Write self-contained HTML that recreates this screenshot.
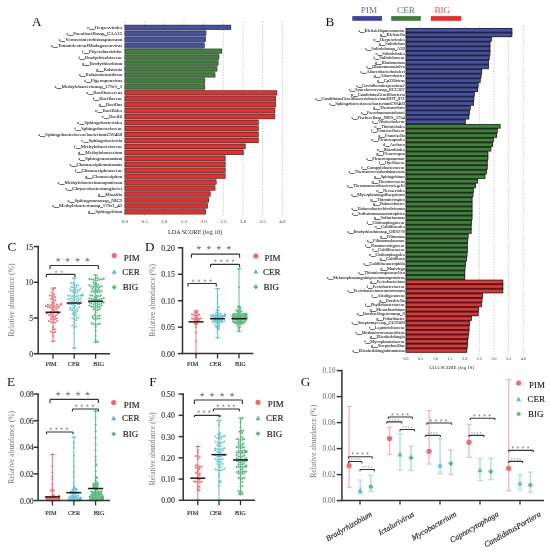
<!DOCTYPE html>
<html><head><meta charset="utf-8"><title>Figure</title>
<style>
html,body{margin:0;padding:0;background:#fff;}
svg{display:block;font-family:'Liberation Serif','DejaVu Serif',serif;}
</style></head><body>
<svg width="550" height="553" viewBox="0 0 550 553">
<rect width="550" height="553" fill="#fff"/>
<g id="pA">
<line x1="124.80" y1="21.5" x2="124.80" y2="216.5" stroke="#9a9a9a" stroke-width="0.6" stroke-dasharray="1.2,1.6"/>
<line x1="144.50" y1="21.5" x2="144.50" y2="216.5" stroke="#9a9a9a" stroke-width="0.6" stroke-dasharray="1.2,1.6"/>
<line x1="164.20" y1="21.5" x2="164.20" y2="216.5" stroke="#9a9a9a" stroke-width="0.6" stroke-dasharray="1.2,1.6"/>
<line x1="183.90" y1="21.5" x2="183.90" y2="216.5" stroke="#9a9a9a" stroke-width="0.6" stroke-dasharray="1.2,1.6"/>
<line x1="203.60" y1="21.5" x2="203.60" y2="216.5" stroke="#9a9a9a" stroke-width="0.6" stroke-dasharray="1.2,1.6"/>
<line x1="223.30" y1="21.5" x2="223.30" y2="216.5" stroke="#9a9a9a" stroke-width="0.6" stroke-dasharray="1.2,1.6"/>
<line x1="243.00" y1="21.5" x2="243.00" y2="216.5" stroke="#9a9a9a" stroke-width="0.6" stroke-dasharray="1.2,1.6"/>
<line x1="262.70" y1="21.5" x2="262.70" y2="216.5" stroke="#9a9a9a" stroke-width="0.6" stroke-dasharray="1.2,1.6"/>
<line x1="282.40" y1="21.5" x2="282.40" y2="216.5" stroke="#9a9a9a" stroke-width="0.6" stroke-dasharray="1.2,1.6"/>
<rect x="124.80" y="29.18" width="81.16" height="2.25" fill="#a8a8a2"/>
<rect x="124.80" y="35.13" width="80.77" height="2.25" fill="#a8a8a2"/>
<rect x="124.80" y="41.09" width="79.59" height="2.25" fill="#a8a8a2"/>
<rect x="124.80" y="47.04" width="79.59" height="2.25" fill="#a8a8a2"/>
<rect x="124.80" y="53.00" width="94.17" height="2.25" fill="#a8a8a2"/>
<rect x="124.80" y="58.95" width="93.38" height="2.25" fill="#a8a8a2"/>
<rect x="124.80" y="64.91" width="92.20" height="2.25" fill="#a8a8a2"/>
<rect x="124.80" y="70.86" width="90.23" height="2.25" fill="#a8a8a2"/>
<rect x="124.80" y="76.82" width="79.98" height="2.25" fill="#a8a8a2"/>
<rect x="124.80" y="82.77" width="79.98" height="2.25" fill="#a8a8a2"/>
<rect x="124.80" y="88.73" width="79.98" height="2.25" fill="#a8a8a2"/>
<rect x="124.80" y="94.68" width="150.90" height="2.25" fill="#a8a8a2"/>
<rect x="124.80" y="100.64" width="150.90" height="2.25" fill="#a8a8a2"/>
<rect x="124.80" y="106.59" width="150.11" height="2.25" fill="#a8a8a2"/>
<rect x="124.80" y="112.55" width="150.11" height="2.25" fill="#a8a8a2"/>
<rect x="124.80" y="118.50" width="133.57" height="2.25" fill="#a8a8a2"/>
<rect x="124.80" y="124.46" width="133.57" height="2.25" fill="#a8a8a2"/>
<rect x="124.80" y="130.41" width="133.57" height="2.25" fill="#a8a8a2"/>
<rect x="124.80" y="136.37" width="133.57" height="2.25" fill="#a8a8a2"/>
<rect x="124.80" y="142.32" width="120.56" height="2.25" fill="#a8a8a2"/>
<rect x="124.80" y="148.28" width="118.59" height="2.25" fill="#a8a8a2"/>
<rect x="124.80" y="154.23" width="100.47" height="2.25" fill="#a8a8a2"/>
<rect x="124.80" y="160.19" width="100.47" height="2.25" fill="#a8a8a2"/>
<rect x="124.80" y="166.14" width="100.47" height="2.25" fill="#a8a8a2"/>
<rect x="124.80" y="172.10" width="100.47" height="2.25" fill="#a8a8a2"/>
<rect x="124.80" y="178.05" width="91.41" height="2.25" fill="#a8a8a2"/>
<rect x="124.80" y="184.01" width="90.23" height="2.25" fill="#a8a8a2"/>
<rect x="124.80" y="189.96" width="85.50" height="2.25" fill="#a8a8a2"/>
<rect x="124.80" y="195.92" width="83.92" height="2.25" fill="#a8a8a2"/>
<rect x="124.80" y="201.87" width="82.74" height="2.25" fill="#a8a8a2"/>
<rect x="124.80" y="207.83" width="80.77" height="2.25" fill="#a8a8a2"/>
<rect x="124.45" y="24.78" width="106.69" height="5.10" fill="#3a3a3a"/>
<rect x="125.15" y="25.48" width="105.29" height="3.70" fill="#444fa8"/>
<rect x="124.45" y="30.73" width="81.86" height="5.10" fill="#3a3a3a"/>
<rect x="125.15" y="31.43" width="80.46" height="3.70" fill="#444fa8"/>
<rect x="124.45" y="36.69" width="81.47" height="5.10" fill="#3a3a3a"/>
<rect x="125.15" y="37.39" width="80.07" height="3.70" fill="#444fa8"/>
<rect x="124.45" y="42.64" width="80.29" height="5.10" fill="#3a3a3a"/>
<rect x="125.15" y="43.34" width="78.89" height="3.70" fill="#444fa8"/>
<rect x="124.45" y="48.60" width="97.62" height="5.10" fill="#3a3a3a"/>
<rect x="125.15" y="49.30" width="96.22" height="3.70" fill="#3d8338"/>
<rect x="124.45" y="54.55" width="94.87" height="5.10" fill="#3a3a3a"/>
<rect x="125.15" y="55.25" width="93.47" height="3.70" fill="#3d8338"/>
<rect x="124.45" y="60.51" width="94.08" height="5.10" fill="#3a3a3a"/>
<rect x="125.15" y="61.21" width="92.68" height="3.70" fill="#3d8338"/>
<rect x="124.45" y="66.46" width="92.90" height="5.10" fill="#3a3a3a"/>
<rect x="125.15" y="67.16" width="91.50" height="3.70" fill="#3d8338"/>
<rect x="124.45" y="72.42" width="90.93" height="5.10" fill="#3a3a3a"/>
<rect x="125.15" y="73.12" width="89.53" height="3.70" fill="#3d8338"/>
<rect x="124.45" y="78.37" width="80.68" height="5.10" fill="#3a3a3a"/>
<rect x="125.15" y="79.07" width="79.28" height="3.70" fill="#3d8338"/>
<rect x="124.45" y="84.33" width="80.68" height="5.10" fill="#3a3a3a"/>
<rect x="125.15" y="85.03" width="79.28" height="3.70" fill="#3d8338"/>
<rect x="124.45" y="90.28" width="152.78" height="5.10" fill="#3a3a3a"/>
<rect x="125.15" y="90.98" width="151.38" height="3.70" fill="#ee2b2b"/>
<rect x="124.45" y="96.24" width="151.60" height="5.10" fill="#3a3a3a"/>
<rect x="125.15" y="96.94" width="150.20" height="3.70" fill="#ee2b2b"/>
<rect x="124.45" y="102.19" width="151.60" height="5.10" fill="#3a3a3a"/>
<rect x="125.15" y="102.89" width="150.20" height="3.70" fill="#ee2b2b"/>
<rect x="124.45" y="108.15" width="150.81" height="5.10" fill="#3a3a3a"/>
<rect x="125.15" y="108.85" width="149.41" height="3.70" fill="#ee2b2b"/>
<rect x="124.45" y="114.10" width="150.81" height="5.10" fill="#3a3a3a"/>
<rect x="125.15" y="114.80" width="149.41" height="3.70" fill="#ee2b2b"/>
<rect x="124.45" y="120.06" width="134.27" height="5.10" fill="#3a3a3a"/>
<rect x="125.15" y="120.76" width="132.87" height="3.70" fill="#ee2b2b"/>
<rect x="124.45" y="126.01" width="134.27" height="5.10" fill="#3a3a3a"/>
<rect x="125.15" y="126.71" width="132.87" height="3.70" fill="#ee2b2b"/>
<rect x="124.45" y="131.97" width="134.27" height="5.10" fill="#3a3a3a"/>
<rect x="125.15" y="132.67" width="132.87" height="3.70" fill="#ee2b2b"/>
<rect x="124.45" y="137.92" width="134.27" height="5.10" fill="#3a3a3a"/>
<rect x="125.15" y="138.62" width="132.87" height="3.70" fill="#ee2b2b"/>
<rect x="124.45" y="143.88" width="121.26" height="5.10" fill="#3a3a3a"/>
<rect x="125.15" y="144.58" width="119.86" height="3.70" fill="#ee2b2b"/>
<rect x="124.45" y="149.83" width="119.29" height="5.10" fill="#3a3a3a"/>
<rect x="125.15" y="150.53" width="117.89" height="3.70" fill="#ee2b2b"/>
<rect x="124.45" y="155.79" width="101.17" height="5.10" fill="#3a3a3a"/>
<rect x="125.15" y="156.49" width="99.77" height="3.70" fill="#ee2b2b"/>
<rect x="124.45" y="161.74" width="101.17" height="5.10" fill="#3a3a3a"/>
<rect x="125.15" y="162.44" width="99.77" height="3.70" fill="#ee2b2b"/>
<rect x="124.45" y="167.70" width="101.17" height="5.10" fill="#3a3a3a"/>
<rect x="125.15" y="168.40" width="99.77" height="3.70" fill="#ee2b2b"/>
<rect x="124.45" y="173.65" width="101.17" height="5.10" fill="#3a3a3a"/>
<rect x="125.15" y="174.35" width="99.77" height="3.70" fill="#ee2b2b"/>
<rect x="124.45" y="179.61" width="92.11" height="5.10" fill="#3a3a3a"/>
<rect x="125.15" y="180.31" width="90.71" height="3.70" fill="#ee2b2b"/>
<rect x="124.45" y="185.56" width="90.93" height="5.10" fill="#3a3a3a"/>
<rect x="125.15" y="186.26" width="89.53" height="3.70" fill="#ee2b2b"/>
<rect x="124.45" y="191.52" width="86.20" height="5.10" fill="#3a3a3a"/>
<rect x="125.15" y="192.22" width="84.80" height="3.70" fill="#ee2b2b"/>
<rect x="124.45" y="197.47" width="84.62" height="5.10" fill="#3a3a3a"/>
<rect x="125.15" y="198.17" width="83.22" height="3.70" fill="#ee2b2b"/>
<rect x="124.45" y="203.43" width="83.44" height="5.10" fill="#3a3a3a"/>
<rect x="125.15" y="204.13" width="82.04" height="3.70" fill="#ee2b2b"/>
<rect x="124.45" y="209.38" width="81.47" height="5.10" fill="#3a3a3a"/>
<rect x="125.15" y="210.08" width="80.07" height="3.70" fill="#ee2b2b"/>
<text x="122.30" y="28.83" font-size="5.0" text-anchor="end" fill="#111" stroke="#111" stroke-width="0.06">o__Herpesvirales</text>
<text x="122.30" y="34.78" font-size="5.0" text-anchor="end" fill="#111" stroke="#111" stroke-width="0.06">s__Paenibacillussp_CAA11</text>
<text x="122.30" y="40.74" font-size="5.0" text-anchor="end" fill="#111" stroke="#111" stroke-width="0.06">s__Verrucomicrobiumspinosum</text>
<text x="122.30" y="46.69" font-size="5.0" text-anchor="end" fill="#111" stroke="#111" stroke-width="0.06">s__TomatoleafcurlMadagascarvirus</text>
<text x="122.30" y="52.65" font-size="5.0" text-anchor="end" fill="#111" stroke="#111" stroke-width="0.06">f__Phycodnaviridae</text>
<text x="122.30" y="58.60" font-size="5.0" text-anchor="end" fill="#111" stroke="#111" stroke-width="0.06">f__Bradyrhizobiaceae</text>
<text x="122.30" y="64.56" font-size="5.0" text-anchor="end" fill="#111" stroke="#111" stroke-width="0.06">g__Bradyrhizobium</text>
<text x="122.30" y="70.51" font-size="5.0" text-anchor="end" fill="#111" stroke="#111" stroke-width="0.06">g__Ralstonia</text>
<text x="122.30" y="76.47" font-size="5.0" text-anchor="end" fill="#111" stroke="#111" stroke-width="0.06">s__Ralstoniainsidiosa</text>
<text x="122.30" y="82.42" font-size="5.0" text-anchor="end" fill="#111" stroke="#111" stroke-width="0.06">s__Pigeonpoxvirus</text>
<text x="122.30" y="88.38" font-size="5.0" text-anchor="end" fill="#111" stroke="#111" stroke-width="0.06">s__Methylobacteriumsp_17Sr1_1</text>
<text x="122.30" y="94.33" font-size="5.0" text-anchor="end" fill="#111" stroke="#111" stroke-width="0.06">s__Bacilluscereus</text>
<text x="122.30" y="100.29" font-size="5.0" text-anchor="end" fill="#111" stroke="#111" stroke-width="0.06">f__Bacillaceae</text>
<text x="122.30" y="106.24" font-size="5.0" text-anchor="end" fill="#111" stroke="#111" stroke-width="0.06">g__Bacillus</text>
<text x="122.30" y="112.20" font-size="5.0" text-anchor="end" fill="#111" stroke="#111" stroke-width="0.06">o__Bacillales</text>
<text x="122.30" y="118.15" font-size="5.0" text-anchor="end" fill="#111" stroke="#111" stroke-width="0.06">c__Bacilli</text>
<text x="122.30" y="124.11" font-size="5.0" text-anchor="end" fill="#111" stroke="#111" stroke-width="0.06">o__Sphingobacteriales</text>
<text x="122.30" y="130.06" font-size="5.0" text-anchor="end" fill="#111" stroke="#111" stroke-width="0.06">f__Sphingobacteriaceae</text>
<text x="122.30" y="136.02" font-size="5.0" text-anchor="end" fill="#111" stroke="#111" stroke-width="0.06">s__SphingobacteriaceaebacteriumGW460</text>
<text x="122.30" y="141.97" font-size="5.0" text-anchor="end" fill="#111" stroke="#111" stroke-width="0.06">c__Sphingobacteriia</text>
<text x="122.30" y="147.93" font-size="5.0" text-anchor="end" fill="#111" stroke="#111" stroke-width="0.06">f__Methylobacteriaceae</text>
<text x="122.30" y="153.88" font-size="5.0" text-anchor="end" fill="#111" stroke="#111" stroke-width="0.06">g__Methylobacterium</text>
<text x="122.30" y="159.84" font-size="5.0" text-anchor="end" fill="#111" stroke="#111" stroke-width="0.06">s__Sphingomonastaxi</text>
<text x="122.30" y="165.79" font-size="5.0" text-anchor="end" fill="#111" stroke="#111" stroke-width="0.06">s__Chamaesiphonminutus</text>
<text x="122.30" y="171.75" font-size="5.0" text-anchor="end" fill="#111" stroke="#111" stroke-width="0.06">f__Chamaesiphonaceae</text>
<text x="122.30" y="177.70" font-size="5.0" text-anchor="end" fill="#111" stroke="#111" stroke-width="0.06">g__Chamaesiphon</text>
<text x="122.30" y="183.66" font-size="5.0" text-anchor="end" fill="#111" stroke="#111" stroke-width="0.06">s__Methylobacteriumaquaticum</text>
<text x="122.30" y="189.61" font-size="5.0" text-anchor="end" fill="#111" stroke="#111" stroke-width="0.06">s__Chryseobacteriumglaciei</text>
<text x="122.30" y="195.57" font-size="5.0" text-anchor="end" fill="#111" stroke="#111" stroke-width="0.06">g__Massilia</text>
<text x="122.30" y="201.52" font-size="5.0" text-anchor="end" fill="#111" stroke="#111" stroke-width="0.06">s__Sphingomonassp_NIC1</text>
<text x="122.30" y="207.48" font-size="5.0" text-anchor="end" fill="#111" stroke="#111" stroke-width="0.06">s__Methylobacteriumsp_17Sr1_43</text>
<text x="122.30" y="213.43" font-size="5.0" text-anchor="end" fill="#111" stroke="#111" stroke-width="0.06">g__Sphingobium</text>
<text x="124.80" y="223.4" font-size="5.0" text-anchor="middle" fill="#333">0.0</text>
<text x="144.50" y="223.4" font-size="5.0" text-anchor="middle" fill="#333">0.5</text>
<text x="164.20" y="223.4" font-size="5.0" text-anchor="middle" fill="#333">1.0</text>
<text x="183.90" y="223.4" font-size="5.0" text-anchor="middle" fill="#333">1.5</text>
<text x="203.60" y="223.4" font-size="5.0" text-anchor="middle" fill="#333">2.0</text>
<text x="223.30" y="223.4" font-size="5.0" text-anchor="middle" fill="#333">2.5</text>
<text x="243.00" y="223.4" font-size="5.0" text-anchor="middle" fill="#333">3.0</text>
<text x="262.70" y="223.4" font-size="5.0" text-anchor="middle" fill="#333">3.5</text>
<text x="282.40" y="223.4" font-size="5.0" text-anchor="middle" fill="#333">4.0</text>
<text x="195.2" y="233.7" font-size="6.1" text-anchor="middle" fill="#222">LDA SCORE (log 10)</text>
</g>
<text x="32" y="26" font-size="13.2" fill="#111">A</text>
<g id="pB">
<line x1="406.10" y1="26" x2="406.10" y2="355.5" stroke="#9a9a9a" stroke-width="0.6" stroke-dasharray="1.2,1.6"/>
<line x1="420.75" y1="26" x2="420.75" y2="355.5" stroke="#9a9a9a" stroke-width="0.6" stroke-dasharray="1.2,1.6"/>
<line x1="435.40" y1="26" x2="435.40" y2="355.5" stroke="#9a9a9a" stroke-width="0.6" stroke-dasharray="1.2,1.6"/>
<line x1="450.05" y1="26" x2="450.05" y2="355.5" stroke="#9a9a9a" stroke-width="0.6" stroke-dasharray="1.2,1.6"/>
<line x1="464.70" y1="26" x2="464.70" y2="355.5" stroke="#9a9a9a" stroke-width="0.6" stroke-dasharray="1.2,1.6"/>
<line x1="479.35" y1="26" x2="479.35" y2="355.5" stroke="#9a9a9a" stroke-width="0.6" stroke-dasharray="1.2,1.6"/>
<line x1="494.00" y1="26" x2="494.00" y2="355.5" stroke="#9a9a9a" stroke-width="0.6" stroke-dasharray="1.2,1.6"/>
<line x1="508.65" y1="26" x2="508.65" y2="355.5" stroke="#9a9a9a" stroke-width="0.6" stroke-dasharray="1.2,1.6"/>
<line x1="523.30" y1="26" x2="523.30" y2="355.5" stroke="#9a9a9a" stroke-width="0.6" stroke-dasharray="1.2,1.6"/>
<rect x="405.63" y="28.00" width="106.71" height="4.58" fill="#2c2a28"/>
<rect x="405.63" y="31.73" width="106.71" height="1.69" fill="#2c2a28"/>
<rect x="406.57" y="28.94" width="104.84" height="2.70" fill="#4450b4"/>
<rect x="405.63" y="32.58" width="106.71" height="4.58" fill="#2c2a28"/>
<rect x="405.63" y="36.31" width="86.20" height="1.69" fill="#2c2a28"/>
<rect x="406.57" y="33.51" width="104.84" height="2.70" fill="#4450b4"/>
<rect x="405.63" y="37.15" width="86.20" height="4.58" fill="#2c2a28"/>
<rect x="405.63" y="40.88" width="84.74" height="1.69" fill="#2c2a28"/>
<rect x="406.57" y="38.09" width="84.33" height="2.70" fill="#4450b4"/>
<rect x="405.63" y="41.73" width="84.74" height="4.58" fill="#2c2a28"/>
<rect x="405.63" y="45.46" width="84.74" height="1.69" fill="#2c2a28"/>
<rect x="406.57" y="42.66" width="82.86" height="2.70" fill="#4450b4"/>
<rect x="405.63" y="46.30" width="84.74" height="4.58" fill="#2c2a28"/>
<rect x="405.63" y="50.03" width="84.74" height="1.69" fill="#2c2a28"/>
<rect x="406.57" y="47.24" width="82.86" height="2.70" fill="#4450b4"/>
<rect x="405.63" y="50.88" width="84.74" height="4.58" fill="#2c2a28"/>
<rect x="405.63" y="54.61" width="84.15" height="1.69" fill="#2c2a28"/>
<rect x="406.57" y="51.81" width="82.86" height="2.70" fill="#4450b4"/>
<rect x="405.63" y="55.45" width="84.15" height="4.58" fill="#2c2a28"/>
<rect x="405.63" y="59.18" width="83.27" height="1.69" fill="#2c2a28"/>
<rect x="406.57" y="56.39" width="82.27" height="2.70" fill="#4450b4"/>
<rect x="405.63" y="60.02" width="83.27" height="4.58" fill="#2c2a28"/>
<rect x="405.63" y="63.76" width="83.27" height="1.69" fill="#2c2a28"/>
<rect x="406.57" y="60.96" width="81.40" height="2.70" fill="#4450b4"/>
<rect x="405.63" y="64.60" width="83.27" height="4.58" fill="#2c2a28"/>
<rect x="405.63" y="68.33" width="76.53" height="1.69" fill="#2c2a28"/>
<rect x="406.57" y="65.54" width="81.40" height="2.70" fill="#4450b4"/>
<rect x="405.63" y="69.18" width="76.53" height="4.58" fill="#2c2a28"/>
<rect x="405.63" y="72.91" width="75.95" height="1.69" fill="#2c2a28"/>
<rect x="406.57" y="70.11" width="74.66" height="2.70" fill="#4450b4"/>
<rect x="405.63" y="73.75" width="75.95" height="4.58" fill="#2c2a28"/>
<rect x="405.63" y="77.48" width="75.07" height="1.69" fill="#2c2a28"/>
<rect x="406.57" y="74.69" width="74.07" height="2.70" fill="#4450b4"/>
<rect x="405.63" y="78.33" width="75.07" height="4.58" fill="#2c2a28"/>
<rect x="405.63" y="82.06" width="73.02" height="1.69" fill="#2c2a28"/>
<rect x="406.57" y="79.26" width="73.19" height="2.70" fill="#4450b4"/>
<rect x="405.63" y="82.90" width="73.02" height="4.58" fill="#2c2a28"/>
<rect x="405.63" y="86.63" width="72.43" height="1.69" fill="#2c2a28"/>
<rect x="406.57" y="83.84" width="71.14" height="2.70" fill="#4450b4"/>
<rect x="405.63" y="87.47" width="72.43" height="4.58" fill="#2c2a28"/>
<rect x="405.63" y="91.21" width="69.21" height="1.69" fill="#2c2a28"/>
<rect x="406.57" y="88.41" width="70.55" height="2.70" fill="#4450b4"/>
<rect x="405.63" y="92.05" width="69.21" height="4.58" fill="#2c2a28"/>
<rect x="405.63" y="95.78" width="68.62" height="1.69" fill="#2c2a28"/>
<rect x="406.57" y="92.99" width="67.33" height="2.70" fill="#4450b4"/>
<rect x="405.63" y="96.62" width="68.62" height="4.58" fill="#2c2a28"/>
<rect x="405.63" y="100.36" width="68.33" height="1.69" fill="#2c2a28"/>
<rect x="406.57" y="97.56" width="66.75" height="2.70" fill="#4450b4"/>
<rect x="405.63" y="101.20" width="68.33" height="4.58" fill="#2c2a28"/>
<rect x="405.63" y="104.93" width="65.10" height="1.69" fill="#2c2a28"/>
<rect x="406.57" y="102.14" width="66.45" height="2.70" fill="#4450b4"/>
<rect x="405.63" y="105.78" width="65.10" height="4.58" fill="#2c2a28"/>
<rect x="405.63" y="109.51" width="64.23" height="1.69" fill="#2c2a28"/>
<rect x="406.57" y="106.71" width="63.23" height="2.70" fill="#4450b4"/>
<rect x="405.63" y="110.35" width="64.23" height="4.58" fill="#2c2a28"/>
<rect x="405.63" y="114.08" width="63.64" height="1.69" fill="#2c2a28"/>
<rect x="406.57" y="111.29" width="62.35" height="2.70" fill="#4450b4"/>
<rect x="405.63" y="114.92" width="63.64" height="4.58" fill="#2c2a28"/>
<rect x="405.63" y="118.66" width="60.12" height="1.69" fill="#2c2a28"/>
<rect x="406.57" y="115.86" width="61.76" height="2.70" fill="#4450b4"/>
<rect x="405.63" y="119.50" width="60.12" height="4.58" fill="#2c2a28"/>
<rect x="405.63" y="123.23" width="60.12" height="1.69" fill="#2c2a28"/>
<rect x="406.57" y="120.44" width="58.25" height="2.70" fill="#4450b4"/>
<rect x="405.63" y="124.08" width="94.99" height="4.58" fill="#2c2a28"/>
<rect x="405.63" y="127.81" width="92.06" height="1.69" fill="#2c2a28"/>
<rect x="406.57" y="125.01" width="93.12" height="2.70" fill="#398838"/>
<rect x="405.63" y="128.65" width="92.06" height="4.58" fill="#2c2a28"/>
<rect x="405.63" y="132.38" width="91.47" height="1.69" fill="#2c2a28"/>
<rect x="406.57" y="129.59" width="90.19" height="2.70" fill="#398838"/>
<rect x="405.63" y="133.23" width="91.47" height="4.58" fill="#2c2a28"/>
<rect x="405.63" y="136.96" width="88.25" height="1.69" fill="#2c2a28"/>
<rect x="406.57" y="134.16" width="89.60" height="2.70" fill="#398838"/>
<rect x="405.63" y="137.80" width="88.25" height="4.58" fill="#2c2a28"/>
<rect x="405.63" y="141.53" width="87.37" height="1.69" fill="#2c2a28"/>
<rect x="406.57" y="138.74" width="86.38" height="2.70" fill="#398838"/>
<rect x="405.63" y="142.38" width="87.37" height="4.58" fill="#2c2a28"/>
<rect x="405.63" y="146.11" width="85.61" height="1.69" fill="#2c2a28"/>
<rect x="406.57" y="143.31" width="85.50" height="2.70" fill="#398838"/>
<rect x="405.63" y="146.95" width="85.61" height="4.58" fill="#2c2a28"/>
<rect x="405.63" y="150.68" width="82.68" height="1.69" fill="#2c2a28"/>
<rect x="406.57" y="147.89" width="83.74" height="2.70" fill="#398838"/>
<rect x="405.63" y="151.53" width="82.68" height="4.58" fill="#2c2a28"/>
<rect x="405.63" y="155.26" width="82.68" height="1.69" fill="#2c2a28"/>
<rect x="406.57" y="152.46" width="80.81" height="2.70" fill="#398838"/>
<rect x="405.63" y="156.10" width="82.68" height="4.58" fill="#2c2a28"/>
<rect x="405.63" y="159.83" width="82.10" height="1.69" fill="#2c2a28"/>
<rect x="406.57" y="157.04" width="80.81" height="2.70" fill="#398838"/>
<rect x="405.63" y="160.68" width="82.10" height="4.58" fill="#2c2a28"/>
<rect x="405.63" y="164.41" width="82.10" height="1.69" fill="#2c2a28"/>
<rect x="406.57" y="161.61" width="80.22" height="2.70" fill="#398838"/>
<rect x="405.63" y="165.25" width="82.10" height="4.58" fill="#2c2a28"/>
<rect x="405.63" y="168.98" width="81.22" height="1.69" fill="#2c2a28"/>
<rect x="406.57" y="166.19" width="80.22" height="2.70" fill="#398838"/>
<rect x="405.63" y="169.83" width="81.22" height="4.58" fill="#2c2a28"/>
<rect x="405.63" y="173.56" width="79.75" height="1.69" fill="#2c2a28"/>
<rect x="406.57" y="170.76" width="79.34" height="2.70" fill="#398838"/>
<rect x="405.63" y="174.40" width="79.75" height="4.58" fill="#2c2a28"/>
<rect x="405.63" y="178.13" width="72.43" height="1.69" fill="#2c2a28"/>
<rect x="406.57" y="175.34" width="77.88" height="2.70" fill="#398838"/>
<rect x="405.63" y="178.97" width="72.43" height="4.58" fill="#2c2a28"/>
<rect x="405.63" y="182.71" width="70.38" height="1.69" fill="#2c2a28"/>
<rect x="406.57" y="179.91" width="70.55" height="2.70" fill="#398838"/>
<rect x="405.63" y="183.55" width="70.38" height="4.58" fill="#2c2a28"/>
<rect x="405.63" y="187.28" width="68.33" height="1.69" fill="#2c2a28"/>
<rect x="406.57" y="184.49" width="68.50" height="2.70" fill="#398838"/>
<rect x="405.63" y="188.12" width="68.33" height="4.58" fill="#2c2a28"/>
<rect x="405.63" y="191.86" width="67.74" height="1.69" fill="#2c2a28"/>
<rect x="406.57" y="189.06" width="66.45" height="2.70" fill="#398838"/>
<rect x="405.63" y="192.70" width="67.74" height="4.58" fill="#2c2a28"/>
<rect x="405.63" y="196.43" width="66.86" height="1.69" fill="#2c2a28"/>
<rect x="406.57" y="193.64" width="65.87" height="2.70" fill="#398838"/>
<rect x="405.63" y="197.28" width="66.86" height="4.58" fill="#2c2a28"/>
<rect x="405.63" y="201.01" width="66.86" height="1.69" fill="#2c2a28"/>
<rect x="406.57" y="198.21" width="64.99" height="2.70" fill="#398838"/>
<rect x="405.63" y="201.85" width="66.86" height="4.58" fill="#2c2a28"/>
<rect x="405.63" y="205.58" width="66.86" height="1.69" fill="#2c2a28"/>
<rect x="406.57" y="202.79" width="64.99" height="2.70" fill="#398838"/>
<rect x="405.63" y="206.43" width="66.86" height="4.58" fill="#2c2a28"/>
<rect x="405.63" y="210.16" width="66.86" height="1.69" fill="#2c2a28"/>
<rect x="406.57" y="207.36" width="64.99" height="2.70" fill="#398838"/>
<rect x="405.63" y="211.00" width="66.86" height="4.58" fill="#2c2a28"/>
<rect x="405.63" y="214.73" width="66.86" height="1.69" fill="#2c2a28"/>
<rect x="406.57" y="211.94" width="64.99" height="2.70" fill="#398838"/>
<rect x="405.63" y="215.58" width="66.86" height="4.58" fill="#2c2a28"/>
<rect x="405.63" y="219.31" width="66.28" height="1.69" fill="#2c2a28"/>
<rect x="406.57" y="216.51" width="64.99" height="2.70" fill="#398838"/>
<rect x="405.63" y="220.15" width="66.28" height="4.58" fill="#2c2a28"/>
<rect x="405.63" y="223.88" width="65.98" height="1.69" fill="#2c2a28"/>
<rect x="406.57" y="221.09" width="64.40" height="2.70" fill="#398838"/>
<rect x="405.63" y="224.72" width="65.98" height="4.58" fill="#2c2a28"/>
<rect x="405.63" y="228.46" width="65.98" height="1.69" fill="#2c2a28"/>
<rect x="406.57" y="225.66" width="64.11" height="2.70" fill="#398838"/>
<rect x="405.63" y="229.30" width="65.98" height="4.58" fill="#2c2a28"/>
<rect x="405.63" y="233.03" width="63.05" height="1.69" fill="#2c2a28"/>
<rect x="406.57" y="230.24" width="64.11" height="2.70" fill="#398838"/>
<rect x="405.63" y="233.88" width="63.05" height="4.58" fill="#2c2a28"/>
<rect x="405.63" y="237.61" width="62.47" height="1.69" fill="#2c2a28"/>
<rect x="406.57" y="234.81" width="61.18" height="2.70" fill="#398838"/>
<rect x="405.63" y="238.45" width="62.47" height="4.58" fill="#2c2a28"/>
<rect x="405.63" y="242.18" width="62.17" height="1.69" fill="#2c2a28"/>
<rect x="406.57" y="239.39" width="60.59" height="2.70" fill="#398838"/>
<rect x="405.63" y="243.03" width="62.17" height="4.58" fill="#2c2a28"/>
<rect x="405.63" y="246.76" width="62.17" height="1.69" fill="#2c2a28"/>
<rect x="406.57" y="243.96" width="60.30" height="2.70" fill="#398838"/>
<rect x="405.63" y="247.60" width="62.17" height="4.58" fill="#2c2a28"/>
<rect x="405.63" y="251.33" width="61.88" height="1.69" fill="#2c2a28"/>
<rect x="406.57" y="248.54" width="60.30" height="2.70" fill="#398838"/>
<rect x="405.63" y="252.18" width="61.88" height="4.58" fill="#2c2a28"/>
<rect x="405.63" y="255.91" width="61.30" height="1.69" fill="#2c2a28"/>
<rect x="406.57" y="253.11" width="60.01" height="2.70" fill="#398838"/>
<rect x="405.63" y="256.75" width="61.30" height="4.58" fill="#2c2a28"/>
<rect x="405.63" y="260.48" width="60.42" height="1.69" fill="#2c2a28"/>
<rect x="406.57" y="257.69" width="59.42" height="2.70" fill="#398838"/>
<rect x="405.63" y="261.33" width="60.42" height="4.58" fill="#2c2a28"/>
<rect x="405.63" y="265.06" width="59.83" height="1.69" fill="#2c2a28"/>
<rect x="406.57" y="262.26" width="58.54" height="2.70" fill="#398838"/>
<rect x="405.63" y="265.90" width="59.83" height="4.58" fill="#2c2a28"/>
<rect x="405.63" y="269.63" width="59.54" height="1.69" fill="#2c2a28"/>
<rect x="406.57" y="266.84" width="57.96" height="2.70" fill="#398838"/>
<rect x="405.63" y="270.48" width="59.54" height="4.58" fill="#2c2a28"/>
<rect x="405.63" y="274.21" width="59.54" height="1.69" fill="#2c2a28"/>
<rect x="406.57" y="271.41" width="57.66" height="2.70" fill="#398838"/>
<rect x="405.63" y="275.05" width="59.54" height="4.58" fill="#2c2a28"/>
<rect x="405.63" y="278.78" width="59.54" height="1.69" fill="#2c2a28"/>
<rect x="406.57" y="275.99" width="57.66" height="2.70" fill="#398838"/>
<rect x="405.63" y="279.62" width="97.63" height="4.58" fill="#2c2a28"/>
<rect x="405.63" y="283.36" width="97.63" height="1.69" fill="#2c2a28"/>
<rect x="406.57" y="280.56" width="95.75" height="2.70" fill="#f03030"/>
<rect x="405.63" y="284.20" width="97.63" height="4.58" fill="#2c2a28"/>
<rect x="405.63" y="287.93" width="97.63" height="1.69" fill="#2c2a28"/>
<rect x="406.57" y="285.14" width="95.75" height="2.70" fill="#f03030"/>
<rect x="405.63" y="288.78" width="97.63" height="4.58" fill="#2c2a28"/>
<rect x="405.63" y="292.51" width="77.41" height="1.69" fill="#2c2a28"/>
<rect x="406.57" y="289.71" width="95.75" height="2.70" fill="#f03030"/>
<rect x="405.63" y="293.35" width="77.41" height="4.58" fill="#2c2a28"/>
<rect x="405.63" y="297.08" width="76.82" height="1.69" fill="#2c2a28"/>
<rect x="406.57" y="294.29" width="75.54" height="2.70" fill="#f03030"/>
<rect x="405.63" y="297.93" width="76.82" height="4.58" fill="#2c2a28"/>
<rect x="405.63" y="301.66" width="76.24" height="1.69" fill="#2c2a28"/>
<rect x="406.57" y="298.86" width="74.95" height="2.70" fill="#f03030"/>
<rect x="405.63" y="302.50" width="76.24" height="4.58" fill="#2c2a28"/>
<rect x="405.63" y="306.23" width="73.31" height="1.69" fill="#2c2a28"/>
<rect x="406.57" y="303.44" width="74.36" height="2.70" fill="#f03030"/>
<rect x="405.63" y="307.07" width="73.31" height="4.58" fill="#2c2a28"/>
<rect x="405.63" y="310.81" width="73.02" height="1.69" fill="#2c2a28"/>
<rect x="406.57" y="308.01" width="71.43" height="2.70" fill="#f03030"/>
<rect x="405.63" y="311.65" width="73.02" height="4.58" fill="#2c2a28"/>
<rect x="405.63" y="315.38" width="66.28" height="1.69" fill="#2c2a28"/>
<rect x="406.57" y="312.59" width="71.14" height="2.70" fill="#f03030"/>
<rect x="405.63" y="316.23" width="66.28" height="4.58" fill="#2c2a28"/>
<rect x="405.63" y="319.96" width="64.52" height="1.69" fill="#2c2a28"/>
<rect x="406.57" y="317.16" width="64.40" height="2.70" fill="#f03030"/>
<rect x="405.63" y="320.80" width="64.52" height="4.58" fill="#2c2a28"/>
<rect x="405.63" y="324.53" width="63.93" height="1.69" fill="#2c2a28"/>
<rect x="406.57" y="321.74" width="62.64" height="2.70" fill="#f03030"/>
<rect x="405.63" y="325.38" width="63.93" height="4.58" fill="#2c2a28"/>
<rect x="405.63" y="329.11" width="63.64" height="1.69" fill="#2c2a28"/>
<rect x="406.57" y="326.31" width="62.06" height="2.70" fill="#f03030"/>
<rect x="405.63" y="329.95" width="63.64" height="4.58" fill="#2c2a28"/>
<rect x="405.63" y="333.68" width="63.05" height="1.69" fill="#2c2a28"/>
<rect x="406.57" y="330.89" width="61.76" height="2.70" fill="#f03030"/>
<rect x="405.63" y="334.53" width="63.05" height="4.58" fill="#2c2a28"/>
<rect x="405.63" y="338.26" width="62.47" height="1.69" fill="#2c2a28"/>
<rect x="406.57" y="335.46" width="61.18" height="2.70" fill="#f03030"/>
<rect x="405.63" y="339.10" width="62.47" height="4.58" fill="#2c2a28"/>
<rect x="405.63" y="342.83" width="62.17" height="1.69" fill="#2c2a28"/>
<rect x="406.57" y="340.04" width="60.59" height="2.70" fill="#f03030"/>
<rect x="405.63" y="343.68" width="62.17" height="4.58" fill="#2c2a28"/>
<rect x="405.63" y="347.41" width="61.59" height="1.69" fill="#2c2a28"/>
<rect x="406.57" y="344.61" width="60.30" height="2.70" fill="#f03030"/>
<rect x="405.63" y="348.25" width="61.59" height="4.58" fill="#2c2a28"/>
<rect x="406.57" y="349.19" width="59.71" height="2.70" fill="#f03030"/>
<text x="404.80" y="31.64" font-size="4.5" text-anchor="end" fill="#111" stroke="#111" stroke-width="0.06">s__Klebsiellapneumoniae</text>
<text x="404.80" y="36.21" font-size="4.5" text-anchor="end" fill="#111" stroke="#111" stroke-width="0.06">g__Klebsiella</text>
<text x="404.80" y="40.79" font-size="4.5" text-anchor="end" fill="#111" stroke="#111" stroke-width="0.06">o__Herpesvirales</text>
<text x="404.80" y="45.36" font-size="4.5" text-anchor="end" fill="#111" stroke="#111" stroke-width="0.06">g__Sulfolobus</text>
<text x="404.80" y="49.94" font-size="4.5" text-anchor="end" fill="#111" stroke="#111" stroke-width="0.06">s__Sulfolobussp_A20</text>
<text x="404.80" y="54.51" font-size="4.5" text-anchor="end" fill="#111" stroke="#111" stroke-width="0.06">o__Sulfolobales</text>
<text x="404.80" y="59.09" font-size="4.5" text-anchor="end" fill="#111" stroke="#111" stroke-width="0.06">f__Sulfolobaceae</text>
<text x="404.80" y="63.66" font-size="4.5" text-anchor="end" fill="#111" stroke="#111" stroke-width="0.06">g__Blastomonas</text>
<text x="404.80" y="68.24" font-size="4.5" text-anchor="end" fill="#111" stroke="#111" stroke-width="0.06">s__Blastomonasfulva</text>
<text x="404.80" y="72.81" font-size="4.5" text-anchor="end" fill="#111" stroke="#111" stroke-width="0.06">s__Aliarcobacterbutzleri</text>
<text x="404.80" y="77.39" font-size="4.5" text-anchor="end" fill="#111" stroke="#111" stroke-width="0.06">g__Aliarcobacter</text>
<text x="404.80" y="81.96" font-size="4.5" text-anchor="end" fill="#111" stroke="#111" stroke-width="0.06">g__Cp220virus</text>
<text x="404.80" y="86.54" font-size="4.5" text-anchor="end" fill="#111" stroke="#111" stroke-width="0.06">s__Caviidbetaherpesvirus2</text>
<text x="404.80" y="91.11" font-size="4.5" text-anchor="end" fill="#111" stroke="#111" stroke-width="0.06">s__Synechococcussp_RCC307</text>
<text x="404.80" y="95.69" font-size="4.5" text-anchor="end" fill="#111" stroke="#111" stroke-width="0.06">p__CandidatusGracilibacteria</text>
<text x="404.80" y="100.26" font-size="4.5" text-anchor="end" fill="#111" stroke="#111" stroke-width="0.06">s__CandidatusGracilibacteriabacteriumHOT_871</text>
<text x="404.80" y="104.84" font-size="4.5" text-anchor="end" fill="#111" stroke="#111" stroke-width="0.06">s__SphingobacteriaceaebacteriumGW460</text>
<text x="404.80" y="109.41" font-size="4.5" text-anchor="end" fill="#111" stroke="#111" stroke-width="0.06">g__Thermovibrio</text>
<text x="404.80" y="113.99" font-size="4.5" text-anchor="end" fill="#111" stroke="#111" stroke-width="0.06">s__Pseudomonastolaasii</text>
<text x="404.80" y="118.56" font-size="4.5" text-anchor="end" fill="#111" stroke="#111" stroke-width="0.06">s__Fischerellasp_NIES_3754</text>
<text x="404.80" y="123.14" font-size="4.5" text-anchor="end" fill="#111" stroke="#111" stroke-width="0.06">s__Vibriocholerae</text>
<text x="404.80" y="127.71" font-size="4.5" text-anchor="end" fill="#111" stroke="#111" stroke-width="0.06">o__Thiotrichales</text>
<text x="404.80" y="132.29" font-size="4.5" text-anchor="end" fill="#111" stroke="#111" stroke-width="0.06">f__Francisellaceae</text>
<text x="404.80" y="136.86" font-size="4.5" text-anchor="end" fill="#111" stroke="#111" stroke-width="0.06">g__Francisella</text>
<text x="404.80" y="141.44" font-size="4.5" text-anchor="end" fill="#111" stroke="#111" stroke-width="0.06">o__Pleurocapsales</text>
<text x="404.80" y="146.01" font-size="4.5" text-anchor="end" fill="#111" stroke="#111" stroke-width="0.06">d__Archaea</text>
<text x="404.80" y="150.59" font-size="4.5" text-anchor="end" fill="#111" stroke="#111" stroke-width="0.06">o__Rhizobiales</text>
<text x="404.80" y="155.16" font-size="4.5" text-anchor="end" fill="#111" stroke="#111" stroke-width="0.06">g__Pleurocapsa</text>
<text x="404.80" y="159.74" font-size="4.5" text-anchor="end" fill="#111" stroke="#111" stroke-width="0.06">s__Pleurocapsaminor</text>
<text x="404.80" y="164.31" font-size="4.5" text-anchor="end" fill="#111" stroke="#111" stroke-width="0.06">f__Hyellaceae</text>
<text x="404.80" y="168.89" font-size="4.5" text-anchor="end" fill="#111" stroke="#111" stroke-width="0.06">f__Campylobacteraceae</text>
<text x="404.80" y="173.46" font-size="4.5" text-anchor="end" fill="#111" stroke="#111" stroke-width="0.06">s__Thermococcuskodakarensis</text>
<text x="404.80" y="178.04" font-size="4.5" text-anchor="end" fill="#111" stroke="#111" stroke-width="0.06">g__Sphingobium</text>
<text x="404.80" y="182.61" font-size="4.5" text-anchor="end" fill="#111" stroke="#111" stroke-width="0.06">g__Thermococcus</text>
<text x="404.80" y="187.19" font-size="4.5" text-anchor="end" fill="#111" stroke="#111" stroke-width="0.06">s__Thermoanaerobacterwiegelii</text>
<text x="404.80" y="191.76" font-size="4.5" text-anchor="end" fill="#111" stroke="#111" stroke-width="0.06">o__Neisseriales</text>
<text x="404.80" y="196.34" font-size="4.5" text-anchor="end" fill="#111" stroke="#111" stroke-width="0.06">s__Mycoplasmagallisepticum</text>
<text x="404.80" y="200.91" font-size="4.5" text-anchor="end" fill="#111" stroke="#111" stroke-width="0.06">g__Thiomicrospira</text>
<text x="404.80" y="205.49" font-size="4.5" text-anchor="end" fill="#111" stroke="#111" stroke-width="0.06">g__Halarcobacter</text>
<text x="404.80" y="210.06" font-size="4.5" text-anchor="end" fill="#111" stroke="#111" stroke-width="0.06">s__Halarcobacterbivalviorum</text>
<text x="404.80" y="214.64" font-size="4.5" text-anchor="end" fill="#111" stroke="#111" stroke-width="0.06">s__Sulfurimonasautotrophica</text>
<text x="404.80" y="219.21" font-size="4.5" text-anchor="end" fill="#111" stroke="#111" stroke-width="0.06">g__Sulfurimonas</text>
<text x="404.80" y="223.79" font-size="4.5" text-anchor="end" fill="#111" stroke="#111" stroke-width="0.06">f__Chitinophagaceae</text>
<text x="404.80" y="228.36" font-size="4.5" text-anchor="end" fill="#111" stroke="#111" stroke-width="0.06">o__Caldilineales</text>
<text x="404.80" y="232.94" font-size="4.5" text-anchor="end" fill="#111" stroke="#111" stroke-width="0.06">s__Bradyrhizobiumsp_ORS278</text>
<text x="404.80" y="237.51" font-size="4.5" text-anchor="end" fill="#111" stroke="#111" stroke-width="0.06">g__Filimonas</text>
<text x="404.80" y="242.09" font-size="4.5" text-anchor="end" fill="#111" stroke="#111" stroke-width="0.06">s__Filimonaslacunae</text>
<text x="404.80" y="246.66" font-size="4.5" text-anchor="end" fill="#111" stroke="#111" stroke-width="0.06">f__Flammeovirgaceae</text>
<text x="404.80" y="251.24" font-size="4.5" text-anchor="end" fill="#111" stroke="#111" stroke-width="0.06">f__Caldilineaceae</text>
<text x="404.80" y="255.81" font-size="4.5" text-anchor="end" fill="#111" stroke="#111" stroke-width="0.06">o__Chitinophagales</text>
<text x="404.80" y="260.39" font-size="4.5" text-anchor="end" fill="#111" stroke="#111" stroke-width="0.06">g__Caldilinea</text>
<text x="404.80" y="264.96" font-size="4.5" text-anchor="end" fill="#111" stroke="#111" stroke-width="0.06">s__Caldilineaaerophila</text>
<text x="404.80" y="269.54" font-size="4.5" text-anchor="end" fill="#111" stroke="#111" stroke-width="0.06">g__Marivirga</text>
<text x="404.80" y="274.11" font-size="4.5" text-anchor="end" fill="#111" stroke="#111" stroke-width="0.06">s__Thiomicrospiracyclica</text>
<text x="404.80" y="278.69" font-size="4.5" text-anchor="end" fill="#111" stroke="#111" stroke-width="0.06">s__Melanoplussanguinipesentomopoxvirus</text>
<text x="404.80" y="283.26" font-size="4.5" text-anchor="end" fill="#111" stroke="#111" stroke-width="0.06">g__Pectobacterium</text>
<text x="404.80" y="287.84" font-size="4.5" text-anchor="end" fill="#111" stroke="#111" stroke-width="0.06">f__Pectobacteriaceae</text>
<text x="404.80" y="292.41" font-size="4.5" text-anchor="end" fill="#111" stroke="#111" stroke-width="0.06">s__Pectobacteriumcarotovorum</text>
<text x="404.80" y="296.99" font-size="4.5" text-anchor="end" fill="#111" stroke="#111" stroke-width="0.06">f__Alcaligenaceae</text>
<text x="404.80" y="301.56" font-size="4.5" text-anchor="end" fill="#111" stroke="#111" stroke-width="0.06">g__Bordetella</text>
<text x="404.80" y="306.14" font-size="4.5" text-anchor="end" fill="#111" stroke="#111" stroke-width="0.06">f__Phyllobacteriaceae</text>
<text x="404.80" y="310.71" font-size="4.5" text-anchor="end" fill="#111" stroke="#111" stroke-width="0.06">g__Mesorhizobium</text>
<text x="404.80" y="315.29" font-size="4.5" text-anchor="end" fill="#111" stroke="#111" stroke-width="0.06">s__Bordetellagenomosp_8</text>
<text x="404.80" y="319.86" font-size="4.5" text-anchor="end" fill="#111" stroke="#111" stroke-width="0.06">g__Polaribacter</text>
<text x="404.80" y="324.44" font-size="4.5" text-anchor="end" fill="#111" stroke="#111" stroke-width="0.06">s__Streptomycessp_CLI2509</text>
<text x="404.80" y="329.01" font-size="4.5" text-anchor="end" fill="#111" stroke="#111" stroke-width="0.06">f__Leptotrichiaceae</text>
<text x="404.80" y="333.59" font-size="4.5" text-anchor="end" fill="#111" stroke="#111" stroke-width="0.06">s__Methanococcusaeolicus</text>
<text x="404.80" y="338.16" font-size="4.5" text-anchor="end" fill="#111" stroke="#111" stroke-width="0.06">g__Elizabethkingia</text>
<text x="404.80" y="342.74" font-size="4.5" text-anchor="end" fill="#111" stroke="#111" stroke-width="0.06">f__Mycoplasmataceae</text>
<text x="404.80" y="347.31" font-size="4.5" text-anchor="end" fill="#111" stroke="#111" stroke-width="0.06">g__Streptobacillus</text>
<text x="404.80" y="351.89" font-size="4.5" text-anchor="end" fill="#111" stroke="#111" stroke-width="0.06">s__Elizabethkingiabruuniana</text>
<text x="406.10" y="359.7" font-size="4.0" text-anchor="middle" fill="#333">0.0</text>
<text x="420.75" y="359.7" font-size="4.0" text-anchor="middle" fill="#333">0.5</text>
<text x="435.40" y="359.7" font-size="4.0" text-anchor="middle" fill="#333">1.0</text>
<text x="450.05" y="359.7" font-size="4.0" text-anchor="middle" fill="#333">1.5</text>
<text x="464.70" y="359.7" font-size="4.0" text-anchor="middle" fill="#333">2.0</text>
<text x="479.35" y="359.7" font-size="4.0" text-anchor="middle" fill="#333">2.5</text>
<text x="494.00" y="359.7" font-size="4.0" text-anchor="middle" fill="#333">3.0</text>
<text x="508.65" y="359.7" font-size="4.0" text-anchor="middle" fill="#333">3.5</text>
<text x="523.30" y="359.7" font-size="4.0" text-anchor="middle" fill="#333">4.0</text>
<text x="451.6" y="368.5" font-size="5.0" text-anchor="middle" fill="#222">LDA SCORE (log 10)</text>
</g>
<text x="325.6" y="25.9" font-size="13.2" fill="#111">B</text>
<rect x="352.3" y="16.1" width="29.7" height="4.7" fill="#3a44a6"/>
<text x="369" y="12.7" font-size="9.2" text-anchor="middle" fill="#5f6cb0">PIM</text>
<rect x="391.2" y="16.1" width="29.6" height="4.7" fill="#3e7f38"/>
<text x="406" y="12.7" font-size="9.2" text-anchor="middle" fill="#4f8860">CER</text>
<rect x="430.9" y="16.1" width="30.5" height="4.7" fill="#ee2b2b"/>
<text x="442.3" y="12.7" font-size="9.2" text-anchor="middle" fill="#e65252">BIG</text>
<text x="7.6" y="250.6" font-size="13.2" fill="#111">C</text>
<line x1="53" y1="341.20" x2="53" y2="288.01" stroke="#f2696e" stroke-width="0.9"/>
<line x1="50.6" y1="341.20" x2="55.6" y2="341.20" stroke="#f2696e" stroke-width="0.9"/>
<line x1="50.6" y1="288.01" x2="55.6" y2="288.01" stroke="#f2696e" stroke-width="0.9"/>
<circle cx="53.00" cy="341.20" r="1.00" fill="#f2696e"/>
<circle cx="53.00" cy="336.03" r="1.00" fill="#f2696e"/>
<circle cx="53.00" cy="332.65" r="1.00" fill="#f2696e"/>
<circle cx="55.05" cy="331.99" r="1.00" fill="#f2696e"/>
<circle cx="50.95" cy="331.68" r="1.00" fill="#f2696e"/>
<circle cx="53.00" cy="329.47" r="1.00" fill="#f2696e"/>
<circle cx="55.05" cy="329.16" r="1.00" fill="#f2696e"/>
<circle cx="53.00" cy="327.09" r="1.00" fill="#f2696e"/>
<circle cx="53.00" cy="322.82" r="1.00" fill="#f2696e"/>
<circle cx="55.05" cy="322.48" r="1.00" fill="#f2696e"/>
<circle cx="50.95" cy="321.98" r="1.00" fill="#f2696e"/>
<circle cx="57.10" cy="321.07" r="1.00" fill="#f2696e"/>
<circle cx="48.90" cy="320.96" r="1.00" fill="#f2696e"/>
<circle cx="53.00" cy="320.10" r="1.00" fill="#f2696e"/>
<circle cx="55.05" cy="319.12" r="1.00" fill="#f2696e"/>
<circle cx="50.95" cy="318.88" r="1.00" fill="#f2696e"/>
<circle cx="57.10" cy="318.61" r="1.00" fill="#f2696e"/>
<circle cx="53.00" cy="317.36" r="1.00" fill="#f2696e"/>
<circle cx="55.05" cy="316.71" r="1.00" fill="#f2696e"/>
<circle cx="50.95" cy="316.45" r="1.00" fill="#f2696e"/>
<circle cx="53.00" cy="315.16" r="1.00" fill="#f2696e"/>
<circle cx="56.08" cy="314.88" r="1.00" fill="#f2696e"/>
<circle cx="48.90" cy="314.80" r="1.00" fill="#f2696e"/>
<circle cx="50.95" cy="314.06" r="1.00" fill="#f2696e"/>
<circle cx="58.12" cy="313.69" r="1.00" fill="#f2696e"/>
<circle cx="46.85" cy="313.53" r="1.00" fill="#f2696e"/>
<circle cx="53.00" cy="312.19" r="1.00" fill="#f2696e"/>
<circle cx="55.05" cy="312.19" r="1.00" fill="#f2696e"/>
<circle cx="50.95" cy="311.64" r="1.00" fill="#f2696e"/>
<circle cx="57.10" cy="311.43" r="1.00" fill="#f2696e"/>
<circle cx="54.02" cy="310.25" r="1.00" fill="#f2696e"/>
<circle cx="51.98" cy="309.37" r="1.00" fill="#f2696e"/>
<circle cx="56.08" cy="308.54" r="1.00" fill="#f2696e"/>
<circle cx="54.02" cy="307.80" r="1.00" fill="#f2696e"/>
<circle cx="49.92" cy="307.76" r="1.00" fill="#f2696e"/>
<circle cx="58.12" cy="307.75" r="1.00" fill="#f2696e"/>
<circle cx="51.98" cy="307.04" r="1.00" fill="#f2696e"/>
<circle cx="47.88" cy="307.00" r="1.00" fill="#f2696e"/>
<circle cx="56.08" cy="306.33" r="1.00" fill="#f2696e"/>
<circle cx="59.15" cy="305.94" r="1.00" fill="#f2696e"/>
<circle cx="45.83" cy="305.93" r="1.00" fill="#f2696e"/>
<circle cx="54.02" cy="305.56" r="1.00" fill="#f2696e"/>
<circle cx="49.92" cy="305.53" r="1.00" fill="#f2696e"/>
<circle cx="51.98" cy="304.65" r="1.00" fill="#f2696e"/>
<circle cx="47.88" cy="304.63" r="1.00" fill="#f2696e"/>
<circle cx="57.10" cy="304.53" r="1.00" fill="#f2696e"/>
<circle cx="61.20" cy="304.47" r="1.00" fill="#f2696e"/>
<circle cx="61.20" cy="304.35" r="1.00" fill="#f2696e"/>
<circle cx="61.20" cy="303.91" r="1.00" fill="#f2696e"/>
<circle cx="54.02" cy="302.96" r="1.00" fill="#f2696e"/>
<circle cx="51.98" cy="302.50" r="1.00" fill="#f2696e"/>
<circle cx="53.00" cy="300.52" r="1.00" fill="#f2696e"/>
<circle cx="55.05" cy="300.17" r="1.00" fill="#f2696e"/>
<circle cx="50.95" cy="299.04" r="1.00" fill="#f2696e"/>
<circle cx="53.00" cy="297.90" r="1.00" fill="#f2696e"/>
<circle cx="55.05" cy="296.97" r="1.00" fill="#f2696e"/>
<circle cx="51.98" cy="295.90" r="1.00" fill="#f2696e"/>
<circle cx="49.92" cy="295.60" r="1.00" fill="#f2696e"/>
<circle cx="54.02" cy="294.54" r="1.00" fill="#f2696e"/>
<circle cx="51.98" cy="292.86" r="1.00" fill="#f2696e"/>
<circle cx="53.00" cy="289.40" r="1.00" fill="#f2696e"/>
<circle cx="55.05" cy="288.01" r="1.00" fill="#f2696e"/>
<line x1="45.5" y1="312.29" x2="60.5" y2="312.29" stroke="#1a1a1a" stroke-width="1.5"/>
<line x1="74.2" y1="347.99" x2="74.2" y2="278.02" stroke="#58bcc8" stroke-width="0.9"/>
<line x1="71.8" y1="347.99" x2="76.8" y2="347.99" stroke="#58bcc8" stroke-width="0.9"/>
<line x1="71.8" y1="278.02" x2="76.8" y2="278.02" stroke="#58bcc8" stroke-width="0.9"/>
<path d="M74.20 346.79L75.35 348.89L73.05 348.89Z" fill="#58bcc8"/>
<path d="M74.20 331.66L75.35 333.76L73.05 333.76Z" fill="#58bcc8"/>
<path d="M74.20 325.75L75.35 327.85L73.05 327.85Z" fill="#58bcc8"/>
<path d="M76.25 325.05L77.40 327.15L75.10 327.15Z" fill="#58bcc8"/>
<path d="M72.15 324.15L73.30 326.25L71.00 326.25Z" fill="#58bcc8"/>
<path d="M74.20 323.08L75.35 325.18L73.05 325.18Z" fill="#58bcc8"/>
<path d="M74.20 320.13L75.35 322.23L73.05 322.23Z" fill="#58bcc8"/>
<path d="M76.25 318.79L77.40 320.89L75.10 320.89Z" fill="#58bcc8"/>
<path d="M74.20 317.84L75.35 319.94L73.05 319.94Z" fill="#58bcc8"/>
<path d="M72.15 317.01L73.30 319.11L71.00 319.11Z" fill="#58bcc8"/>
<path d="M76.25 316.49L77.40 318.59L75.10 318.59Z" fill="#58bcc8"/>
<path d="M78.30 316.44L79.45 318.54L77.15 318.54Z" fill="#58bcc8"/>
<path d="M74.20 314.68L75.35 316.78L73.05 316.78Z" fill="#58bcc8"/>
<path d="M76.25 313.56L77.40 315.66L75.10 315.66Z" fill="#58bcc8"/>
<path d="M73.17 312.84L74.33 314.94L72.02 314.94Z" fill="#58bcc8"/>
<path d="M75.23 311.78L76.38 313.88L74.08 313.88Z" fill="#58bcc8"/>
<path d="M73.17 310.65L74.33 312.75L72.02 312.75Z" fill="#58bcc8"/>
<path d="M77.28 310.03L78.43 312.13L76.12 312.13Z" fill="#58bcc8"/>
<path d="M75.23 309.12L76.38 311.22L74.08 311.22Z" fill="#58bcc8"/>
<path d="M72.15 308.78L73.30 310.88L71.00 310.88Z" fill="#58bcc8"/>
<path d="M70.10 308.52L71.25 310.62L68.95 310.62Z" fill="#58bcc8"/>
<path d="M77.28 307.54L78.43 309.64L76.12 309.64Z" fill="#58bcc8"/>
<path d="M74.20 306.59L75.35 308.69L73.05 308.69Z" fill="#58bcc8"/>
<path d="M72.15 306.49L73.30 308.59L71.00 308.59Z" fill="#58bcc8"/>
<path d="M70.10 306.28L71.25 308.38L68.95 308.38Z" fill="#58bcc8"/>
<path d="M79.33 306.13L80.48 308.23L78.17 308.23Z" fill="#58bcc8"/>
<path d="M75.23 304.71L76.38 306.81L74.08 306.81Z" fill="#58bcc8"/>
<path d="M73.17 303.33L74.33 305.43L72.02 305.43Z" fill="#58bcc8"/>
<path d="M77.28 303.23L78.43 305.33L76.12 305.33Z" fill="#58bcc8"/>
<path d="M71.12 302.91L72.28 305.01L69.97 305.01Z" fill="#58bcc8"/>
<path d="M79.33 302.90L80.48 305.00L78.17 305.00Z" fill="#58bcc8"/>
<path d="M69.08 302.73L70.23 304.83L67.92 304.83Z" fill="#58bcc8"/>
<path d="M74.20 301.08L75.35 303.18L73.05 303.18Z" fill="#58bcc8"/>
<path d="M76.25 300.77L77.40 302.87L75.10 302.87Z" fill="#58bcc8"/>
<path d="M72.15 299.63L73.30 301.73L71.00 301.73Z" fill="#58bcc8"/>
<path d="M78.30 299.36L79.45 301.46L77.15 301.46Z" fill="#58bcc8"/>
<path d="M70.10 299.24L71.25 301.34L68.95 301.34Z" fill="#58bcc8"/>
<path d="M80.35 299.18L81.50 301.28L79.20 301.28Z" fill="#58bcc8"/>
<path d="M74.20 298.19L75.35 300.29L73.05 300.29Z" fill="#58bcc8"/>
<path d="M76.25 298.11L77.40 300.21L75.10 300.21Z" fill="#58bcc8"/>
<path d="M68.05 297.72L69.20 299.82L66.90 299.82Z" fill="#58bcc8"/>
<path d="M72.15 297.15L73.30 299.25L71.00 299.25Z" fill="#58bcc8"/>
<path d="M78.30 297.15L79.45 299.25L77.15 299.25Z" fill="#58bcc8"/>
<path d="M70.10 296.90L71.25 299.00L68.95 299.00Z" fill="#58bcc8"/>
<path d="M80.35 296.75L81.50 298.85L79.20 298.85Z" fill="#58bcc8"/>
<path d="M74.20 295.82L75.35 297.92L73.05 297.92Z" fill="#58bcc8"/>
<path d="M76.25 294.80L77.40 296.90L75.10 296.90Z" fill="#58bcc8"/>
<path d="M72.15 294.66L73.30 296.76L71.00 296.76Z" fill="#58bcc8"/>
<path d="M78.30 294.44L79.45 296.54L77.15 296.54Z" fill="#58bcc8"/>
<path d="M70.10 294.39L71.25 296.49L68.95 296.49Z" fill="#58bcc8"/>
<path d="M80.35 294.22L81.50 296.32L79.20 296.32Z" fill="#58bcc8"/>
<path d="M68.05 294.14L69.20 296.24L66.90 296.24Z" fill="#58bcc8"/>
<path d="M82.40 294.11L83.55 296.21L81.25 296.21Z" fill="#58bcc8"/>
<path d="M82.40 294.07L83.55 296.17L81.25 296.17Z" fill="#58bcc8"/>
<path d="M74.20 293.62L75.35 295.72L73.05 295.72Z" fill="#58bcc8"/>
<path d="M82.40 293.58L83.55 295.68L81.25 295.68Z" fill="#58bcc8"/>
<path d="M82.40 293.43L83.55 295.53L81.25 295.53Z" fill="#58bcc8"/>
<path d="M82.40 293.20L83.55 295.30L81.25 295.30Z" fill="#58bcc8"/>
<path d="M75.23 291.82L76.38 293.92L74.08 293.92Z" fill="#58bcc8"/>
<path d="M73.17 290.87L74.33 292.97L72.02 292.97Z" fill="#58bcc8"/>
<path d="M77.28 290.67L78.43 292.77L76.12 292.77Z" fill="#58bcc8"/>
<path d="M75.23 289.60L76.38 291.70L74.08 291.70Z" fill="#58bcc8"/>
<path d="M71.12 289.50L72.28 291.60L69.97 291.60Z" fill="#58bcc8"/>
<path d="M79.33 289.23L80.48 291.33L78.17 291.33Z" fill="#58bcc8"/>
<path d="M73.17 288.72L74.33 290.82L72.02 290.82Z" fill="#58bcc8"/>
<path d="M77.28 288.45L78.43 290.55L76.12 290.55Z" fill="#58bcc8"/>
<path d="M70.10 287.72L71.25 289.82L68.95 289.82Z" fill="#58bcc8"/>
<path d="M75.23 287.39L76.38 289.49L74.08 289.49Z" fill="#58bcc8"/>
<path d="M80.35 287.19L81.50 289.29L79.20 289.29Z" fill="#58bcc8"/>
<path d="M73.17 285.79L74.33 287.89L72.02 287.89Z" fill="#58bcc8"/>
<path d="M76.25 285.53L77.40 287.63L75.10 287.63Z" fill="#58bcc8"/>
<path d="M71.12 285.45L72.28 287.55L69.97 287.55Z" fill="#58bcc8"/>
<path d="M78.30 284.04L79.45 286.14L77.15 286.14Z" fill="#58bcc8"/>
<path d="M74.20 283.57L75.35 285.67L73.05 285.67Z" fill="#58bcc8"/>
<path d="M76.25 283.30L77.40 285.40L75.10 285.40Z" fill="#58bcc8"/>
<path d="M73.17 281.74L74.33 283.84L72.02 283.84Z" fill="#58bcc8"/>
<path d="M71.12 281.55L72.28 283.65L69.97 283.65Z" fill="#58bcc8"/>
<path d="M74.20 276.82L75.35 278.92L73.05 278.92Z" fill="#58bcc8"/>
<line x1="66.7" y1="303.01" x2="81.7" y2="303.01" stroke="#1a1a1a" stroke-width="1.5"/>
<line x1="95.6" y1="342.28" x2="95.6" y2="275.16" stroke="#58b97f" stroke-width="0.9"/>
<line x1="93.19999999999999" y1="342.28" x2="98.19999999999999" y2="342.28" stroke="#58b97f" stroke-width="0.9"/>
<line x1="93.19999999999999" y1="275.16" x2="98.19999999999999" y2="275.16" stroke="#58b97f" stroke-width="0.9"/>
<path d="M95.60 340.98L96.90 342.28L95.60 343.58L94.30 342.28Z" fill="#58b97f"/>
<path d="M97.65 340.50L98.95 341.80L97.65 343.10L96.35 341.80Z" fill="#58b97f"/>
<path d="M95.60 338.73L96.90 340.03L95.60 341.33L94.30 340.03Z" fill="#58b97f"/>
<path d="M95.60 334.72L96.90 336.02L95.60 337.32L94.30 336.02Z" fill="#58b97f"/>
<path d="M95.60 329.85L96.90 331.15L95.60 332.45L94.30 331.15Z" fill="#58b97f"/>
<path d="M95.60 325.79L96.90 327.09L95.60 328.39L94.30 327.09Z" fill="#58b97f"/>
<path d="M95.60 323.18L96.90 324.48L95.60 325.78L94.30 324.48Z" fill="#58b97f"/>
<path d="M97.65 322.91L98.95 324.21L97.65 325.51L96.35 324.21Z" fill="#58b97f"/>
<path d="M93.55 322.65L94.85 323.95L93.55 325.25L92.25 323.95Z" fill="#58b97f"/>
<path d="M99.70 322.32L101.00 323.62L99.70 324.92L98.40 323.62Z" fill="#58b97f"/>
<path d="M91.50 321.98L92.80 323.28L91.50 324.58L90.20 323.28Z" fill="#58b97f"/>
<path d="M95.60 317.80L96.90 319.10L95.60 320.40L94.30 319.10Z" fill="#58b97f"/>
<path d="M97.65 317.47L98.95 318.77L97.65 320.07L96.35 318.77Z" fill="#58b97f"/>
<path d="M93.55 317.38L94.85 318.68L93.55 319.98L92.25 318.68Z" fill="#58b97f"/>
<path d="M99.70 317.13L101.00 318.43L99.70 319.73L98.40 318.43Z" fill="#58b97f"/>
<path d="M95.60 315.67L96.90 316.97L95.60 318.27L94.30 316.97Z" fill="#58b97f"/>
<path d="M92.52 315.57L93.82 316.87L92.52 318.17L91.22 316.87Z" fill="#58b97f"/>
<path d="M97.65 314.72L98.95 316.02L97.65 317.32L96.35 316.02Z" fill="#58b97f"/>
<path d="M99.70 314.34L101.00 315.64L99.70 316.94L98.40 315.64Z" fill="#58b97f"/>
<path d="M94.57 313.63L95.87 314.93L94.57 316.23L93.27 314.93Z" fill="#58b97f"/>
<path d="M95.60 311.43L96.90 312.73L95.60 314.03L94.30 312.73Z" fill="#58b97f"/>
<path d="M95.60 309.32L96.90 310.62L95.60 311.92L94.30 310.62Z" fill="#58b97f"/>
<path d="M97.65 308.59L98.95 309.89L97.65 311.19L96.35 309.89Z" fill="#58b97f"/>
<path d="M93.55 308.11L94.85 309.41L93.55 310.71L92.25 309.41Z" fill="#58b97f"/>
<path d="M99.70 307.58L101.00 308.88L99.70 310.18L98.40 308.88Z" fill="#58b97f"/>
<path d="M95.60 306.74L96.90 308.04L95.60 309.34L94.30 308.04Z" fill="#58b97f"/>
<path d="M97.65 305.86L98.95 307.16L97.65 308.46L96.35 307.16Z" fill="#58b97f"/>
<path d="M93.55 305.58L94.85 306.88L93.55 308.18L92.25 306.88Z" fill="#58b97f"/>
<path d="M99.70 305.39L101.00 306.69L99.70 307.99L98.40 306.69Z" fill="#58b97f"/>
<path d="M91.50 305.32L92.80 306.62L91.50 307.92L90.20 306.62Z" fill="#58b97f"/>
<path d="M95.60 304.68L96.90 305.98L95.60 307.28L94.30 305.98Z" fill="#58b97f"/>
<path d="M101.75 304.26L103.05 305.56L101.75 306.86L100.45 305.56Z" fill="#58b97f"/>
<path d="M89.45 304.23L90.75 305.53L89.45 306.83L88.15 305.53Z" fill="#58b97f"/>
<path d="M97.65 303.66L98.95 304.96L97.65 306.26L96.35 304.96Z" fill="#58b97f"/>
<path d="M93.55 302.99L94.85 304.29L93.55 305.59L92.25 304.29Z" fill="#58b97f"/>
<path d="M99.70 302.94L101.00 304.24L99.70 305.54L98.40 304.24Z" fill="#58b97f"/>
<path d="M95.60 302.52L96.90 303.82L95.60 305.12L94.30 303.82Z" fill="#58b97f"/>
<path d="M91.50 301.77L92.80 303.07L91.50 304.37L90.20 303.07Z" fill="#58b97f"/>
<path d="M101.75 301.72L103.05 303.02L101.75 304.32L100.45 303.02Z" fill="#58b97f"/>
<path d="M97.65 301.60L98.95 302.90L97.65 304.20L96.35 302.90Z" fill="#58b97f"/>
<path d="M89.45 301.28L90.75 302.58L89.45 303.88L88.15 302.58Z" fill="#58b97f"/>
<path d="M103.80 301.22L105.10 302.52L103.80 303.82L102.50 302.52Z" fill="#58b97f"/>
<path d="M94.57 300.47L95.87 301.77L94.57 303.07L93.27 301.77Z" fill="#58b97f"/>
<path d="M99.70 300.26L101.00 301.56L99.70 302.86L98.40 301.56Z" fill="#58b97f"/>
<path d="M95.60 298.55L96.90 299.85L95.60 301.15L94.30 299.85Z" fill="#58b97f"/>
<path d="M97.65 298.42L98.95 299.72L97.65 301.02L96.35 299.72Z" fill="#58b97f"/>
<path d="M93.55 298.29L94.85 299.59L93.55 300.89L92.25 299.59Z" fill="#58b97f"/>
<path d="M99.70 298.16L101.00 299.46L99.70 300.76L98.40 299.46Z" fill="#58b97f"/>
<path d="M91.50 297.64L92.80 298.94L91.50 300.24L90.20 298.94Z" fill="#58b97f"/>
<path d="M101.75 297.41L103.05 298.71L101.75 300.01L100.45 298.71Z" fill="#58b97f"/>
<path d="M89.45 296.95L90.75 298.25L89.45 299.55L88.15 298.25Z" fill="#58b97f"/>
<path d="M103.80 296.70L105.10 298.00L103.80 299.30L102.50 298.00Z" fill="#58b97f"/>
<path d="M96.62 296.62L97.92 297.92L96.62 299.22L95.33 297.92Z" fill="#58b97f"/>
<path d="M94.57 296.05L95.87 297.35L94.57 298.65L93.27 297.35Z" fill="#58b97f"/>
<path d="M98.67 294.95L99.97 296.25L98.67 297.55L97.38 296.25Z" fill="#58b97f"/>
<path d="M96.62 294.49L97.92 295.79L96.62 297.09L95.33 295.79Z" fill="#58b97f"/>
<path d="M92.52 294.31L93.82 295.61L92.52 296.91L91.22 295.61Z" fill="#58b97f"/>
<path d="M100.72 294.29L102.02 295.59L100.72 296.89L99.42 295.59Z" fill="#58b97f"/>
<path d="M90.47 294.13L91.77 295.43L90.47 296.73L89.17 295.43Z" fill="#58b97f"/>
<path d="M95.60 291.06L96.90 292.36L95.60 293.66L94.30 292.36Z" fill="#58b97f"/>
<path d="M97.65 290.93L98.95 292.23L97.65 293.53L96.35 292.23Z" fill="#58b97f"/>
<path d="M93.55 290.70L94.85 292.00L93.55 293.30L92.25 292.00Z" fill="#58b97f"/>
<path d="M99.70 290.45L101.00 291.75L99.70 293.05L98.40 291.75Z" fill="#58b97f"/>
<path d="M91.50 290.03L92.80 291.33L91.50 292.63L90.20 291.33Z" fill="#58b97f"/>
<path d="M101.75 289.71L103.05 291.01L101.75 292.31L100.45 291.01Z" fill="#58b97f"/>
<path d="M96.62 289.08L97.92 290.38L96.62 291.68L95.33 290.38Z" fill="#58b97f"/>
<path d="M94.57 288.79L95.87 290.09L94.57 291.39L93.27 290.09Z" fill="#58b97f"/>
<path d="M98.67 288.33L99.97 289.63L98.67 290.93L97.38 289.63Z" fill="#58b97f"/>
<path d="M92.52 287.44L93.82 288.74L92.52 290.04L91.22 288.74Z" fill="#58b97f"/>
<path d="M95.60 286.56L96.90 287.86L95.60 289.16L94.30 287.86Z" fill="#58b97f"/>
<path d="M97.65 286.43L98.95 287.73L97.65 289.03L96.35 287.73Z" fill="#58b97f"/>
<path d="M99.70 285.98L101.00 287.28L99.70 288.58L98.40 287.28Z" fill="#58b97f"/>
<path d="M93.55 285.46L94.85 286.76L93.55 288.06L92.25 286.76Z" fill="#58b97f"/>
<path d="M91.50 285.16L92.80 286.46L91.50 287.76L90.20 286.46Z" fill="#58b97f"/>
<path d="M101.75 285.01L103.05 286.31L101.75 287.61L100.45 286.31Z" fill="#58b97f"/>
<path d="M96.62 284.56L97.92 285.86L96.62 287.16L95.33 285.86Z" fill="#58b97f"/>
<path d="M98.67 283.95L99.97 285.25L98.67 286.55L97.38 285.25Z" fill="#58b97f"/>
<path d="M89.45 283.91L90.75 285.21L89.45 286.51L88.15 285.21Z" fill="#58b97f"/>
<path d="M94.57 283.24L95.87 284.54L94.57 285.84L93.27 284.54Z" fill="#58b97f"/>
<path d="M96.62 282.37L97.92 283.67L96.62 284.97L95.33 283.67Z" fill="#58b97f"/>
<path d="M93.55 281.29L94.85 282.59L93.55 283.89L92.25 282.59Z" fill="#58b97f"/>
<path d="M95.60 279.19L96.90 280.49L95.60 281.79L94.30 280.49Z" fill="#58b97f"/>
<path d="M97.65 278.92L98.95 280.22L97.65 281.52L96.35 280.22Z" fill="#58b97f"/>
<path d="M93.55 278.50L94.85 279.80L93.55 281.10L92.25 279.80Z" fill="#58b97f"/>
<path d="M99.70 278.19L101.00 279.49L99.70 280.79L98.40 279.49Z" fill="#58b97f"/>
<path d="M91.50 277.98L92.80 279.28L91.50 280.58L90.20 279.28Z" fill="#58b97f"/>
<path d="M101.75 277.92L103.05 279.22L101.75 280.52L100.45 279.22Z" fill="#58b97f"/>
<path d="M89.45 277.82L90.75 279.12L89.45 280.42L88.15 279.12Z" fill="#58b97f"/>
<path d="M103.80 277.29L105.10 278.59L103.80 279.89L102.50 278.59Z" fill="#58b97f"/>
<path d="M95.60 276.88L96.90 278.18L95.60 279.48L94.30 278.18Z" fill="#58b97f"/>
<path d="M97.65 276.45L98.95 277.75L97.65 279.05L96.35 277.75Z" fill="#58b97f"/>
<path d="M95.60 273.86L96.90 275.16L95.60 276.46L94.30 275.16Z" fill="#58b97f"/>
<line x1="88.1" y1="301.22" x2="103.1" y2="301.22" stroke="#1a1a1a" stroke-width="1.5"/>
<path d="M38.2 245.85V353.7H110" fill="none" stroke="#333" stroke-width="1.5"/>
<line x1="33.6" y1="353.70" x2="38.2" y2="353.70" stroke="#333" stroke-width="1.5"/>
<text x="33.2" y="356.70" font-size="7.8" text-anchor="end" fill="#2a2a2a" stroke="#2a2a2a" stroke-width="0.1">0</text>
<line x1="33.6" y1="318.00" x2="38.2" y2="318.00" stroke="#333" stroke-width="1.5"/>
<text x="33.2" y="321.00" font-size="7.8" text-anchor="end" fill="#2a2a2a" stroke="#2a2a2a" stroke-width="0.1">5</text>
<line x1="33.6" y1="282.30" x2="38.2" y2="282.30" stroke="#333" stroke-width="1.5"/>
<text x="33.2" y="285.30" font-size="7.8" text-anchor="end" fill="#2a2a2a" stroke="#2a2a2a" stroke-width="0.1">10</text>
<line x1="33.6" y1="246.60" x2="38.2" y2="246.60" stroke="#333" stroke-width="1.5"/>
<text x="33.2" y="249.60" font-size="7.8" text-anchor="end" fill="#2a2a2a" stroke="#2a2a2a" stroke-width="0.1">15</text>
<line x1="53" y1="353.7" x2="53" y2="358.7" stroke="#333" stroke-width="1.3"/>
<text x="51.1" y="366.2" font-size="6.3" text-anchor="middle" fill="#222" stroke="#222" stroke-width="0.12">PIM</text>
<line x1="74.2" y1="353.7" x2="74.2" y2="358.7" stroke="#333" stroke-width="1.3"/>
<text x="73.9" y="366.2" font-size="6.3" text-anchor="middle" fill="#222" stroke="#222" stroke-width="0.12">CER</text>
<line x1="95.6" y1="353.7" x2="95.6" y2="358.7" stroke="#333" stroke-width="1.3"/>
<text x="98.7" y="366.2" font-size="6.3" text-anchor="middle" fill="#222" stroke="#222" stroke-width="0.12">BIG</text>
<text transform="translate(14.1,300) rotate(-90)" font-size="7.6" text-anchor="middle" fill="#777">Relative abundance (%)</text>
<circle cx="114.20" cy="255.60" r="2.60" fill="#f2696e"/>
<text x="123.8" y="260.6" font-size="9" fill="#222" stroke="#222" stroke-width="0.15">PIM</text>
<path d="M114.20 269.16L116.73 273.78L111.67 273.78Z" fill="#58bcc8"/>
<text x="122.2" y="274.8" font-size="9" fill="#222" stroke="#222" stroke-width="0.15">CER</text>
<path d="M114.20 284.83L116.67 287.30L114.20 289.77L111.73 287.30Z" fill="#58b97f"/>
<text x="122.8" y="290.3" font-size="9" fill="#222" stroke="#222" stroke-width="0.15">BIG</text>
<text x="58.0" y="262.0" font-size="6.9" text-anchor="middle" fill="#8a8a8a" font-family="DejaVu Sans,sans-serif">★</text><text x="67.7" y="262.0" font-size="6.9" text-anchor="middle" fill="#8a8a8a" font-family="DejaVu Sans,sans-serif">★</text><text x="77.5" y="262.0" font-size="6.9" text-anchor="middle" fill="#8a8a8a" font-family="DejaVu Sans,sans-serif">★</text><text x="87.4" y="262.0" font-size="6.9" text-anchor="middle" fill="#8a8a8a" font-family="DejaVu Sans,sans-serif">★</text>
<path d="M50.0 269.0V266.3Q50.0 265.5 50.8 265.5H97.6Q98.4 265.5 98.4 266.3V269.0" fill="none" stroke="#333" stroke-width="1.15"/>
<text x="56.2" y="276.3" font-size="8.4" text-anchor="middle" fill="#a0a0a0" font-family="Liberation Sans,sans-serif">*</text><text x="62.0" y="276.3" font-size="8.4" text-anchor="middle" fill="#a0a0a0" font-family="Liberation Sans,sans-serif">*</text>
<path d="M46.4 277.0V275.2Q46.4 274.4 47.2 274.4H74.2Q75.0 274.4 75.0 275.2V277.0" fill="none" stroke="#333" stroke-width="1.15"/>
<text x="145" y="250.6" font-size="13.2" fill="#111">D</text>
<line x1="196" y1="353.60" x2="196" y2="310.75" stroke="#f2696e" stroke-width="0.9"/>
<line x1="193.6" y1="353.60" x2="198.6" y2="353.60" stroke="#f2696e" stroke-width="0.9"/>
<line x1="193.6" y1="310.75" x2="198.6" y2="310.75" stroke="#f2696e" stroke-width="0.9"/>
<circle cx="196.00" cy="353.60" r="0.90" fill="#f2696e"/>
<circle cx="196.00" cy="341.43" r="0.90" fill="#f2696e"/>
<circle cx="196.00" cy="332.44" r="0.90" fill="#f2696e"/>
<circle cx="196.00" cy="327.15" r="0.90" fill="#f2696e"/>
<circle cx="196.00" cy="324.50" r="0.90" fill="#f2696e"/>
<circle cx="197.35" cy="323.68" r="0.90" fill="#f2696e"/>
<circle cx="194.65" cy="323.57" r="0.90" fill="#f2696e"/>
<circle cx="196.00" cy="322.98" r="0.90" fill="#f2696e"/>
<circle cx="196.00" cy="321.35" r="0.90" fill="#f2696e"/>
<circle cx="197.35" cy="321.11" r="0.90" fill="#f2696e"/>
<circle cx="194.65" cy="321.03" r="0.90" fill="#f2696e"/>
<circle cx="198.70" cy="320.22" r="0.90" fill="#f2696e"/>
<circle cx="196.00" cy="319.47" r="0.90" fill="#f2696e"/>
<circle cx="197.35" cy="319.45" r="0.90" fill="#f2696e"/>
<circle cx="194.65" cy="318.93" r="0.90" fill="#f2696e"/>
<circle cx="198.70" cy="318.80" r="0.90" fill="#f2696e"/>
<circle cx="193.30" cy="318.74" r="0.90" fill="#f2696e"/>
<circle cx="200.05" cy="318.72" r="0.90" fill="#f2696e"/>
<circle cx="191.95" cy="318.51" r="0.90" fill="#f2696e"/>
<circle cx="201.40" cy="318.37" r="0.90" fill="#f2696e"/>
<circle cx="196.00" cy="317.76" r="0.90" fill="#f2696e"/>
<circle cx="197.35" cy="317.43" r="0.90" fill="#f2696e"/>
<circle cx="195.32" cy="316.58" r="0.90" fill="#f2696e"/>
<circle cx="196.68" cy="315.44" r="0.90" fill="#f2696e"/>
<circle cx="194.65" cy="315.38" r="0.90" fill="#f2696e"/>
<circle cx="198.03" cy="315.19" r="0.90" fill="#f2696e"/>
<circle cx="193.30" cy="314.72" r="0.90" fill="#f2696e"/>
<circle cx="199.38" cy="314.56" r="0.90" fill="#f2696e"/>
<circle cx="191.95" cy="314.44" r="0.90" fill="#f2696e"/>
<circle cx="196.00" cy="313.42" r="0.90" fill="#f2696e"/>
<circle cx="197.35" cy="312.77" r="0.90" fill="#f2696e"/>
<circle cx="194.65" cy="312.30" r="0.90" fill="#f2696e"/>
<circle cx="196.00" cy="311.58" r="0.90" fill="#f2696e"/>
<circle cx="197.35" cy="310.75" r="0.90" fill="#f2696e"/>
<line x1="188.5" y1="321.86" x2="203.5" y2="321.86" stroke="#1a1a1a" stroke-width="1.5"/>
<line x1="217.5" y1="337.73" x2="217.5" y2="288.53" stroke="#58bcc8" stroke-width="0.9"/>
<line x1="215.1" y1="337.73" x2="220.1" y2="337.73" stroke="#58bcc8" stroke-width="0.9"/>
<line x1="215.1" y1="288.53" x2="220.1" y2="288.53" stroke="#58bcc8" stroke-width="0.9"/>
<path d="M217.50 336.65L218.53 338.54L216.47 338.54Z" fill="#58bcc8"/>
<path d="M217.50 328.72L218.53 330.61L216.47 330.61Z" fill="#58bcc8"/>
<path d="M218.85 328.05L219.88 329.94L217.81 329.94Z" fill="#58bcc8"/>
<path d="M217.50 327.06L218.53 328.95L216.47 328.95Z" fill="#58bcc8"/>
<path d="M218.85 326.51L219.88 328.40L217.81 328.40Z" fill="#58bcc8"/>
<path d="M216.15 325.90L217.19 327.79L215.12 327.79Z" fill="#58bcc8"/>
<path d="M217.50 325.30L218.53 327.19L216.47 327.19Z" fill="#58bcc8"/>
<path d="M219.53 325.30L220.56 327.19L218.49 327.19Z" fill="#58bcc8"/>
<path d="M216.15 324.52L217.19 326.41L215.12 326.41Z" fill="#58bcc8"/>
<path d="M218.18 324.04L219.21 325.93L217.14 325.93Z" fill="#58bcc8"/>
<path d="M219.53 323.70L220.56 325.59L218.49 325.59Z" fill="#58bcc8"/>
<path d="M214.80 323.56L215.84 325.45L213.77 325.45Z" fill="#58bcc8"/>
<path d="M217.50 322.07L218.53 323.96L216.47 323.96Z" fill="#58bcc8"/>
<path d="M218.85 322.07L219.88 323.96L217.81 323.96Z" fill="#58bcc8"/>
<path d="M216.15 321.38L217.19 323.27L215.12 323.27Z" fill="#58bcc8"/>
<path d="M220.20 321.00L221.23 322.89L219.16 322.89Z" fill="#58bcc8"/>
<path d="M214.80 320.91L215.84 322.80L213.77 322.80Z" fill="#58bcc8"/>
<path d="M218.18 320.90L219.21 322.79L217.14 322.79Z" fill="#58bcc8"/>
<path d="M221.55 320.78L222.59 322.67L220.52 322.67Z" fill="#58bcc8"/>
<path d="M213.45 320.69L214.48 322.58L212.41 322.58Z" fill="#58bcc8"/>
<path d="M222.90 320.64L223.94 322.53L221.87 322.53Z" fill="#58bcc8"/>
<path d="M212.10 320.34L213.13 322.23L211.06 322.23Z" fill="#58bcc8"/>
<path d="M216.82 320.05L217.86 321.94L215.79 321.94Z" fill="#58bcc8"/>
<path d="M219.53 319.79L220.56 321.68L218.49 321.68Z" fill="#58bcc8"/>
<path d="M224.25 319.78L225.28 321.67L223.22 321.67Z" fill="#58bcc8"/>
<path d="M215.47 319.61L216.51 321.50L214.44 321.50Z" fill="#58bcc8"/>
<path d="M218.18 319.47L219.21 321.36L217.14 321.36Z" fill="#58bcc8"/>
<path d="M220.88 319.43L221.91 321.32L219.84 321.32Z" fill="#58bcc8"/>
<path d="M214.12 319.06L215.16 320.95L213.09 320.95Z" fill="#58bcc8"/>
<path d="M222.22 319.02L223.26 320.91L221.19 320.91Z" fill="#58bcc8"/>
<path d="M216.82 318.60L217.86 320.49L215.79 320.49Z" fill="#58bcc8"/>
<path d="M219.53 318.33L220.56 320.22L218.49 320.22Z" fill="#58bcc8"/>
<path d="M215.47 318.24L216.51 320.13L214.44 320.13Z" fill="#58bcc8"/>
<path d="M218.18 317.90L219.21 319.79L217.14 319.79Z" fill="#58bcc8"/>
<path d="M220.88 317.59L221.91 319.48L219.84 319.48Z" fill="#58bcc8"/>
<path d="M214.12 317.57L215.16 319.46L213.09 319.46Z" fill="#58bcc8"/>
<path d="M222.22 317.45L223.26 319.34L221.19 319.34Z" fill="#58bcc8"/>
<path d="M212.78 317.36L213.81 319.25L211.74 319.25Z" fill="#58bcc8"/>
<path d="M216.82 317.22L217.86 319.11L215.79 319.11Z" fill="#58bcc8"/>
<path d="M223.57 317.04L224.61 318.93L222.54 318.93Z" fill="#58bcc8"/>
<path d="M218.85 316.65L219.88 318.54L217.81 318.54Z" fill="#58bcc8"/>
<path d="M215.47 316.37L216.51 318.26L214.44 318.26Z" fill="#58bcc8"/>
<path d="M217.50 315.85L218.53 317.74L216.47 317.74Z" fill="#58bcc8"/>
<path d="M220.20 315.84L221.23 317.73L219.16 317.73Z" fill="#58bcc8"/>
<path d="M214.12 315.70L215.16 317.59L213.09 317.59Z" fill="#58bcc8"/>
<path d="M221.55 315.69L222.59 317.58L220.52 317.58Z" fill="#58bcc8"/>
<path d="M212.78 315.69L213.81 317.58L211.74 317.58Z" fill="#58bcc8"/>
<path d="M222.90 315.54L223.94 317.43L221.87 317.43Z" fill="#58bcc8"/>
<path d="M218.85 315.27L219.88 317.16L217.81 317.16Z" fill="#58bcc8"/>
<path d="M216.15 315.17L217.19 317.06L215.12 317.06Z" fill="#58bcc8"/>
<path d="M211.43 315.09L212.46 316.98L210.39 316.98Z" fill="#58bcc8"/>
<path d="M224.25 315.04L225.28 316.93L223.22 316.93Z" fill="#58bcc8"/>
<path d="M224.93 314.87L225.96 316.76L223.89 316.76Z" fill="#58bcc8"/>
<path d="M224.93 314.70L225.96 316.59L223.89 316.59Z" fill="#58bcc8"/>
<path d="M217.50 314.45L218.53 316.34L216.47 316.34Z" fill="#58bcc8"/>
<path d="M220.20 314.38L221.23 316.27L219.16 316.27Z" fill="#58bcc8"/>
<path d="M214.80 314.28L215.84 316.17L213.77 316.17Z" fill="#58bcc8"/>
<path d="M221.55 314.26L222.59 316.15L220.52 316.15Z" fill="#58bcc8"/>
<path d="M213.45 314.16L214.48 316.05L212.41 316.05Z" fill="#58bcc8"/>
<path d="M222.90 314.01L223.94 315.90L221.87 315.90Z" fill="#58bcc8"/>
<path d="M218.85 313.91L219.88 315.80L217.81 315.80Z" fill="#58bcc8"/>
<path d="M216.15 313.78L217.19 315.67L215.12 315.67Z" fill="#58bcc8"/>
<path d="M212.10 313.72L213.13 315.61L211.06 315.61Z" fill="#58bcc8"/>
<path d="M210.75 313.67L211.78 315.56L209.72 315.56Z" fill="#58bcc8"/>
<path d="M224.93 313.58L225.96 315.47L223.89 315.47Z" fill="#58bcc8"/>
<path d="M224.93 313.30L225.96 315.19L223.89 315.19Z" fill="#58bcc8"/>
<path d="M224.93 313.28L225.96 315.17L223.89 315.17Z" fill="#58bcc8"/>
<path d="M224.93 313.26L225.96 315.15L223.89 315.15Z" fill="#58bcc8"/>
<path d="M224.93 313.17L225.96 315.06L223.89 315.06Z" fill="#58bcc8"/>
<path d="M217.50 312.81L218.53 314.70L216.47 314.70Z" fill="#58bcc8"/>
<path d="M219.53 312.70L220.56 314.59L218.49 314.59Z" fill="#58bcc8"/>
<path d="M215.47 312.53L216.51 314.42L214.44 314.42Z" fill="#58bcc8"/>
<path d="M220.88 312.25L221.91 314.14L219.84 314.14Z" fill="#58bcc8"/>
<path d="M218.18 311.54L219.21 313.43L217.14 313.43Z" fill="#58bcc8"/>
<path d="M216.82 311.43L217.86 313.32L215.79 313.32Z" fill="#58bcc8"/>
<path d="M217.50 309.95L218.53 311.84L216.47 311.84Z" fill="#58bcc8"/>
<path d="M218.85 309.09L219.88 310.98L217.81 310.98Z" fill="#58bcc8"/>
<path d="M216.15 308.87L217.19 310.76L215.12 310.76Z" fill="#58bcc8"/>
<path d="M217.50 306.82L218.53 308.71L216.47 308.71Z" fill="#58bcc8"/>
<path d="M218.85 305.79L219.88 307.68L217.81 307.68Z" fill="#58bcc8"/>
<path d="M217.50 304.91L218.53 306.80L216.47 306.80Z" fill="#58bcc8"/>
<path d="M217.50 301.74L218.53 303.63L216.47 303.63Z" fill="#58bcc8"/>
<path d="M217.50 296.98L218.53 298.87L216.47 298.87Z" fill="#58bcc8"/>
<path d="M217.50 294.33L218.53 296.22L216.47 296.22Z" fill="#58bcc8"/>
<path d="M217.50 287.45L218.53 289.34L216.47 289.34Z" fill="#58bcc8"/>
<line x1="210.0" y1="318.69" x2="225.0" y2="318.69" stroke="#1a1a1a" stroke-width="1.5"/>
<line x1="239" y1="331.38" x2="239" y2="268.96" stroke="#58b97f" stroke-width="0.9"/>
<line x1="236.6" y1="331.38" x2="241.6" y2="331.38" stroke="#58b97f" stroke-width="0.9"/>
<line x1="236.6" y1="268.96" x2="241.6" y2="268.96" stroke="#58b97f" stroke-width="0.9"/>
<path d="M239.00 330.21L240.17 331.38L239.00 332.55L237.83 331.38Z" fill="#58b97f"/>
<path d="M239.00 328.11L240.17 329.28L239.00 330.45L237.83 329.28Z" fill="#58b97f"/>
<path d="M239.00 326.13L240.17 327.30L239.00 328.47L237.83 327.30Z" fill="#58b97f"/>
<path d="M240.35 325.49L241.52 326.66L240.35 327.83L239.18 326.66Z" fill="#58b97f"/>
<path d="M237.65 325.01L238.82 326.18L237.65 327.35L236.48 326.18Z" fill="#58b97f"/>
<path d="M239.00 323.18L240.17 324.35L239.00 325.52L237.83 324.35Z" fill="#58b97f"/>
<path d="M240.35 322.92L241.52 324.09L240.35 325.26L239.18 324.09Z" fill="#58b97f"/>
<path d="M237.65 322.78L238.82 323.95L237.65 325.12L236.48 323.95Z" fill="#58b97f"/>
<path d="M241.70 322.68L242.87 323.85L241.70 325.02L240.53 323.85Z" fill="#58b97f"/>
<path d="M236.30 322.31L237.47 323.48L236.30 324.65L235.13 323.48Z" fill="#58b97f"/>
<path d="M243.05 322.04L244.22 323.21L243.05 324.38L241.88 323.21Z" fill="#58b97f"/>
<path d="M234.95 321.93L236.12 323.10L234.95 324.27L233.78 323.10Z" fill="#58b97f"/>
<path d="M239.00 321.57L240.17 322.74L239.00 323.91L237.83 322.74Z" fill="#58b97f"/>
<path d="M240.35 321.57L241.52 322.74L240.35 323.91L239.18 322.74Z" fill="#58b97f"/>
<path d="M244.40 321.45L245.57 322.62L244.40 323.79L243.23 322.62Z" fill="#58b97f"/>
<path d="M237.65 321.39L238.82 322.56L237.65 323.73L236.48 322.56Z" fill="#58b97f"/>
<path d="M241.70 321.11L242.87 322.28L241.70 323.45L240.53 322.28Z" fill="#58b97f"/>
<path d="M233.60 321.07L234.77 322.24L233.60 323.41L232.43 322.24Z" fill="#58b97f"/>
<path d="M236.30 320.92L237.47 322.09L236.30 323.26L235.13 322.09Z" fill="#58b97f"/>
<path d="M243.05 320.68L244.22 321.85L243.05 323.02L241.88 321.85Z" fill="#58b97f"/>
<path d="M234.95 320.48L236.12 321.65L234.95 322.82L233.78 321.65Z" fill="#58b97f"/>
<path d="M239.00 320.22L240.17 321.39L239.00 322.56L237.83 321.39Z" fill="#58b97f"/>
<path d="M240.35 320.15L241.52 321.32L240.35 322.49L239.18 321.32Z" fill="#58b97f"/>
<path d="M244.40 320.07L245.57 321.24L244.40 322.41L243.23 321.24Z" fill="#58b97f"/>
<path d="M237.65 319.88L238.82 321.05L237.65 322.22L236.48 321.05Z" fill="#58b97f"/>
<path d="M232.93 319.81L234.09 320.98L232.93 322.15L231.76 320.98Z" fill="#58b97f"/>
<path d="M241.70 319.65L242.87 320.82L241.70 321.99L240.53 320.82Z" fill="#58b97f"/>
<path d="M245.75 319.64L246.92 320.81L245.75 321.98L244.58 320.81Z" fill="#58b97f"/>
<path d="M239.00 318.83L240.17 320.00L239.00 321.17L237.83 320.00Z" fill="#58b97f"/>
<path d="M240.35 318.67L241.52 319.84L240.35 321.01L239.18 319.84Z" fill="#58b97f"/>
<path d="M236.97 318.60L238.14 319.77L236.97 320.94L235.81 319.77Z" fill="#58b97f"/>
<path d="M242.38 318.44L243.54 319.61L242.38 320.78L241.21 319.61Z" fill="#58b97f"/>
<path d="M235.62 318.36L236.79 319.53L235.62 320.70L234.46 319.53Z" fill="#58b97f"/>
<path d="M243.72 318.24L244.89 319.41L243.72 320.58L242.56 319.41Z" fill="#58b97f"/>
<path d="M234.28 318.02L235.44 319.19L234.28 320.36L233.11 319.19Z" fill="#58b97f"/>
<path d="M245.07 317.90L246.24 319.07L245.07 320.24L243.91 319.07Z" fill="#58b97f"/>
<path d="M232.93 317.89L234.09 319.06L232.93 320.23L231.76 319.06Z" fill="#58b97f"/>
<path d="M246.43 317.79L247.59 318.96L246.43 320.13L245.26 318.96Z" fill="#58b97f"/>
<path d="M238.32 317.62L239.49 318.79L238.32 319.96L237.16 318.79Z" fill="#58b97f"/>
<path d="M246.43 317.56L247.59 318.73L246.43 319.90L245.26 318.73Z" fill="#58b97f"/>
<path d="M246.43 317.51L247.59 318.68L246.43 319.85L245.26 318.68Z" fill="#58b97f"/>
<path d="M239.68 317.45L240.84 318.62L239.68 319.79L238.51 318.62Z" fill="#58b97f"/>
<path d="M241.03 317.24L242.19 318.41L241.03 319.58L239.86 318.41Z" fill="#58b97f"/>
<path d="M236.97 317.08L238.14 318.25L236.97 319.42L235.81 318.25Z" fill="#58b97f"/>
<path d="M242.38 316.99L243.54 318.16L242.38 319.33L241.21 318.16Z" fill="#58b97f"/>
<path d="M235.62 316.99L236.79 318.16L235.62 319.33L234.46 318.16Z" fill="#58b97f"/>
<path d="M246.43 316.97L247.59 318.14L246.43 319.31L245.26 318.14Z" fill="#58b97f"/>
<path d="M246.43 316.96L247.59 318.13L246.43 319.30L245.26 318.13Z" fill="#58b97f"/>
<path d="M243.72 316.88L244.89 318.05L243.72 319.22L242.56 318.05Z" fill="#58b97f"/>
<path d="M246.43 316.78L247.59 317.95L246.43 319.12L245.26 317.95Z" fill="#58b97f"/>
<path d="M246.43 316.75L247.59 317.92L246.43 319.09L245.26 317.92Z" fill="#58b97f"/>
<path d="M246.43 316.73L247.59 317.90L246.43 319.07L245.26 317.90Z" fill="#58b97f"/>
<path d="M234.28 316.60L235.44 317.77L234.28 318.94L233.11 317.77Z" fill="#58b97f"/>
<path d="M245.07 316.32L246.24 317.49L245.07 318.66L243.91 317.49Z" fill="#58b97f"/>
<path d="M239.00 316.24L240.17 317.41L239.00 318.58L237.83 317.41Z" fill="#58b97f"/>
<path d="M232.93 316.24L234.09 317.41L232.93 318.58L231.76 317.41Z" fill="#58b97f"/>
<path d="M246.43 316.21L247.59 317.38L246.43 318.55L245.26 317.38Z" fill="#58b97f"/>
<path d="M246.43 316.19L247.59 317.36L246.43 318.53L245.26 317.36Z" fill="#58b97f"/>
<path d="M246.43 316.12L247.59 317.29L246.43 318.46L245.26 317.29Z" fill="#58b97f"/>
<path d="M246.43 316.10L247.59 317.27L246.43 318.44L245.26 317.27Z" fill="#58b97f"/>
<path d="M240.35 315.88L241.52 317.05L240.35 318.22L239.18 317.05Z" fill="#58b97f"/>
<path d="M237.65 315.75L238.82 316.92L237.65 318.09L236.48 316.92Z" fill="#58b97f"/>
<path d="M241.70 315.47L242.87 316.64L241.70 317.81L240.53 316.64Z" fill="#58b97f"/>
<path d="M236.30 315.39L237.47 316.56L236.30 317.73L235.13 316.56Z" fill="#58b97f"/>
<path d="M243.05 315.20L244.22 316.37L243.05 317.54L241.88 316.37Z" fill="#58b97f"/>
<path d="M234.95 315.15L236.12 316.32L234.95 317.49L233.78 316.32Z" fill="#58b97f"/>
<path d="M244.40 315.10L245.57 316.27L244.40 317.44L243.23 316.27Z" fill="#58b97f"/>
<path d="M233.60 315.05L234.77 316.22L233.60 317.39L232.43 316.22Z" fill="#58b97f"/>
<path d="M239.00 314.88L240.17 316.05L239.00 317.22L237.83 316.05Z" fill="#58b97f"/>
<path d="M245.75 314.78L246.92 315.95L245.75 317.12L244.58 315.95Z" fill="#58b97f"/>
<path d="M232.25 314.77L233.42 315.94L232.25 317.11L231.08 315.94Z" fill="#58b97f"/>
<path d="M246.43 314.70L247.59 315.87L246.43 317.04L245.26 315.87Z" fill="#58b97f"/>
<path d="M240.35 314.46L241.52 315.63L240.35 316.80L239.18 315.63Z" fill="#58b97f"/>
<path d="M246.43 314.46L247.59 315.63L246.43 316.80L245.26 315.63Z" fill="#58b97f"/>
<path d="M237.65 314.29L238.82 315.46L237.65 316.63L236.48 315.46Z" fill="#58b97f"/>
<path d="M241.70 314.08L242.87 315.25L241.70 316.42L240.53 315.25Z" fill="#58b97f"/>
<path d="M236.30 314.00L237.47 315.17L236.30 316.34L235.13 315.17Z" fill="#58b97f"/>
<path d="M243.72 313.90L244.89 315.07L243.72 316.24L242.56 315.07Z" fill="#58b97f"/>
<path d="M234.28 313.86L235.44 315.03L234.28 316.20L233.11 315.03Z" fill="#58b97f"/>
<path d="M246.43 313.67L247.59 314.84L246.43 316.01L245.26 314.84Z" fill="#58b97f"/>
<path d="M246.43 313.65L247.59 314.82L246.43 315.99L245.26 314.82Z" fill="#58b97f"/>
<path d="M245.07 313.56L246.24 314.73L245.07 315.90L243.91 314.73Z" fill="#58b97f"/>
<path d="M239.00 313.37L240.17 314.54L239.00 315.71L237.83 314.54Z" fill="#58b97f"/>
<path d="M232.93 313.29L234.09 314.46L232.93 315.63L231.76 314.46Z" fill="#58b97f"/>
<path d="M246.43 313.14L247.59 314.31L246.43 315.48L245.26 314.31Z" fill="#58b97f"/>
<path d="M240.35 312.88L241.52 314.05L240.35 315.22L239.18 314.05Z" fill="#58b97f"/>
<path d="M237.65 312.84L238.82 314.01L237.65 315.18L236.48 314.01Z" fill="#58b97f"/>
<path d="M242.38 312.80L243.54 313.97L242.38 315.14L241.21 313.97Z" fill="#58b97f"/>
<path d="M235.62 312.65L236.79 313.82L235.62 314.99L234.46 313.82Z" fill="#58b97f"/>
<path d="M246.43 312.60L247.59 313.77L246.43 314.94L245.26 313.77Z" fill="#58b97f"/>
<path d="M243.72 312.53L244.89 313.70L243.72 314.87L242.56 313.70Z" fill="#58b97f"/>
<path d="M234.28 312.46L235.44 313.63L234.28 314.80L233.11 313.63Z" fill="#58b97f"/>
<path d="M245.07 312.21L246.24 313.38L245.07 314.55L243.91 313.38Z" fill="#58b97f"/>
<path d="M239.00 311.74L240.17 312.91L239.00 314.08L237.83 312.91Z" fill="#58b97f"/>
<path d="M240.35 311.38L241.52 312.55L240.35 313.72L239.18 312.55Z" fill="#58b97f"/>
<path d="M237.65 310.71L238.82 311.88L237.65 313.05L236.48 311.88Z" fill="#58b97f"/>
<path d="M239.00 310.31L240.17 311.48L239.00 312.65L237.83 311.48Z" fill="#58b97f"/>
<path d="M240.35 309.98L241.52 311.15L240.35 312.32L239.18 311.15Z" fill="#58b97f"/>
<path d="M241.70 309.78L242.87 310.95L241.70 312.12L240.53 310.95Z" fill="#58b97f"/>
<path d="M237.65 309.33L238.82 310.50L237.65 311.67L236.48 310.50Z" fill="#58b97f"/>
<path d="M236.30 309.28L237.47 310.45L236.30 311.62L235.13 310.45Z" fill="#58b97f"/>
<path d="M239.00 308.01L240.17 309.18L239.00 310.35L237.83 309.18Z" fill="#58b97f"/>
<path d="M240.35 307.46L241.52 308.63L240.35 309.81L239.18 308.63Z" fill="#58b97f"/>
<path d="M239.00 306.21L240.17 307.38L239.00 308.55L237.83 307.38Z" fill="#58b97f"/>
<path d="M240.35 306.00L241.52 307.17L240.35 308.34L239.18 307.17Z" fill="#58b97f"/>
<path d="M237.65 305.88L238.82 307.05L237.65 308.22L236.48 307.05Z" fill="#58b97f"/>
<path d="M239.00 304.82L240.17 305.99L239.00 307.16L237.83 305.99Z" fill="#58b97f"/>
<path d="M239.00 286.31L240.17 287.48L239.00 288.65L237.83 287.48Z" fill="#58b97f"/>
<path d="M239.00 267.79L240.17 268.96L239.00 270.13L237.83 268.96Z" fill="#58b97f"/>
<line x1="231.5" y1="318.69" x2="246.5" y2="318.69" stroke="#1a1a1a" stroke-width="1.5"/>
<path d="M182.5 247.05V353.6H253.3" fill="none" stroke="#333" stroke-width="1.5"/>
<line x1="177.9" y1="353.60" x2="182.5" y2="353.60" stroke="#333" stroke-width="1.5"/>
<text x="174.9" y="356.60" font-size="7.8" text-anchor="end" fill="#2a2a2a" stroke="#2a2a2a" stroke-width="0.1">0.00</text>
<line x1="177.9" y1="327.15" x2="182.5" y2="327.15" stroke="#333" stroke-width="1.5"/>
<text x="174.9" y="330.15" font-size="7.8" text-anchor="end" fill="#2a2a2a" stroke="#2a2a2a" stroke-width="0.1">0.05</text>
<line x1="177.9" y1="300.70" x2="182.5" y2="300.70" stroke="#333" stroke-width="1.5"/>
<text x="174.9" y="303.70" font-size="7.8" text-anchor="end" fill="#2a2a2a" stroke="#2a2a2a" stroke-width="0.1">0.10</text>
<line x1="177.9" y1="274.25" x2="182.5" y2="274.25" stroke="#333" stroke-width="1.5"/>
<text x="174.9" y="277.25" font-size="7.8" text-anchor="end" fill="#2a2a2a" stroke="#2a2a2a" stroke-width="0.1">0.15</text>
<line x1="177.9" y1="247.80" x2="182.5" y2="247.80" stroke="#333" stroke-width="1.5"/>
<text x="174.9" y="250.80" font-size="7.8" text-anchor="end" fill="#2a2a2a" stroke="#2a2a2a" stroke-width="0.1">0.20</text>
<line x1="196" y1="353.6" x2="196" y2="358.6" stroke="#333" stroke-width="1.3"/>
<text x="192.7" y="366.2" font-size="6.3" text-anchor="middle" fill="#222" stroke="#222" stroke-width="0.12">PIM</text>
<line x1="217.5" y1="353.6" x2="217.5" y2="358.6" stroke="#333" stroke-width="1.3"/>
<text x="215.5" y="366.2" font-size="6.3" text-anchor="middle" fill="#222" stroke="#222" stroke-width="0.12">CER</text>
<line x1="239" y1="353.6" x2="239" y2="358.6" stroke="#333" stroke-width="1.3"/>
<text x="240.4" y="366.2" font-size="6.3" text-anchor="middle" fill="#222" stroke="#222" stroke-width="0.12">BIG</text>
<text transform="translate(154.9,300.4) rotate(-90)" font-size="7.6" text-anchor="middle" fill="#777">Relative abundance (%)</text>
<circle cx="255.80" cy="256.00" r="2.60" fill="#f2696e"/>
<text x="264.5" y="261.0" font-size="9" fill="#222" stroke="#222" stroke-width="0.15">PIM</text>
<path d="M255.80 268.96L258.33 273.58L253.27 273.58Z" fill="#58bcc8"/>
<text x="262.9" y="274.6" font-size="9" fill="#222" stroke="#222" stroke-width="0.15">CER</text>
<path d="M255.80 284.53L258.27 287.00L255.80 289.47L253.33 287.00Z" fill="#58b97f"/>
<text x="263.5" y="290.0" font-size="9" fill="#222" stroke="#222" stroke-width="0.15">BIG</text>
<text x="198.9" y="250.1" font-size="6.9" text-anchor="middle" fill="#8a8a8a" font-family="DejaVu Sans,sans-serif">★</text><text x="208.9" y="250.1" font-size="6.9" text-anchor="middle" fill="#8a8a8a" font-family="DejaVu Sans,sans-serif">★</text><text x="218.9" y="250.1" font-size="6.9" text-anchor="middle" fill="#8a8a8a" font-family="DejaVu Sans,sans-serif">★</text><text x="228.9" y="250.1" font-size="6.9" text-anchor="middle" fill="#8a8a8a" font-family="DejaVu Sans,sans-serif">★</text>
<path d="M191.4 257.7V254.9Q191.4 254.1 192.2 254.1H238.8Q239.6 254.1 239.6 254.9V257.7" fill="none" stroke="#333" stroke-width="1.15"/>
<text x="215.5" y="264.9" font-size="8.4" text-anchor="middle" fill="#8c8c8c" font-family="Liberation Sans,sans-serif">*</text><text x="221.4" y="264.9" font-size="8.4" text-anchor="middle" fill="#8c8c8c" font-family="Liberation Sans,sans-serif">*</text><text x="227.3" y="264.9" font-size="8.4" text-anchor="middle" fill="#8c8c8c" font-family="Liberation Sans,sans-serif">*</text><text x="233.2" y="264.9" font-size="8.4" text-anchor="middle" fill="#8c8c8c" font-family="Liberation Sans,sans-serif">*</text>
<path d="M210.5 267.2V265.2Q210.5 264.4 211.3 264.4H238.8Q239.6 264.4 239.6 265.2V267.2" fill="none" stroke="#333" stroke-width="1.15"/>
<text x="193.2" y="284.6" font-size="8.4" text-anchor="middle" fill="#8c8c8c" font-family="Liberation Sans,sans-serif">*</text><text x="199.0" y="284.6" font-size="8.4" text-anchor="middle" fill="#8c8c8c" font-family="Liberation Sans,sans-serif">*</text><text x="204.8" y="284.6" font-size="8.4" text-anchor="middle" fill="#8c8c8c" font-family="Liberation Sans,sans-serif">*</text><text x="210.6" y="284.6" font-size="8.4" text-anchor="middle" fill="#8c8c8c" font-family="Liberation Sans,sans-serif">*</text>
<path d="M188.0 286.5V284.3Q188.0 283.5 188.8 283.5H215.5Q216.3 283.5 216.3 284.3V286.5" fill="none" stroke="#333" stroke-width="1.15"/>
<text x="7.0" y="385.8" font-size="13.2" fill="#111">E</text>
<line x1="52.4" y1="500.50" x2="52.4" y2="454.62" stroke="#f2696e" stroke-width="0.9"/>
<line x1="50.0" y1="500.50" x2="55.0" y2="500.50" stroke="#f2696e" stroke-width="0.9"/>
<line x1="50.0" y1="454.62" x2="55.0" y2="454.62" stroke="#f2696e" stroke-width="0.9"/>
<circle cx="52.40" cy="500.50" r="1.00" fill="#f2696e"/>
<circle cx="53.90" cy="500.49" r="1.00" fill="#f2696e"/>
<circle cx="50.90" cy="500.42" r="1.00" fill="#f2696e"/>
<circle cx="55.40" cy="500.39" r="1.00" fill="#f2696e"/>
<circle cx="49.40" cy="500.34" r="1.00" fill="#f2696e"/>
<circle cx="56.90" cy="500.31" r="1.00" fill="#f2696e"/>
<circle cx="47.90" cy="500.31" r="1.00" fill="#f2696e"/>
<circle cx="58.40" cy="500.23" r="1.00" fill="#f2696e"/>
<circle cx="46.40" cy="500.16" r="1.00" fill="#f2696e"/>
<circle cx="59.15" cy="500.14" r="1.00" fill="#f2696e"/>
<circle cx="59.15" cy="500.12" r="1.00" fill="#f2696e"/>
<circle cx="59.15" cy="500.11" r="1.00" fill="#f2696e"/>
<circle cx="59.15" cy="499.95" r="1.00" fill="#f2696e"/>
<circle cx="59.15" cy="499.87" r="1.00" fill="#f2696e"/>
<circle cx="59.15" cy="499.80" r="1.00" fill="#f2696e"/>
<circle cx="59.15" cy="499.80" r="1.00" fill="#f2696e"/>
<circle cx="59.15" cy="499.76" r="1.00" fill="#f2696e"/>
<circle cx="59.15" cy="499.63" r="1.00" fill="#f2696e"/>
<circle cx="59.15" cy="499.43" r="1.00" fill="#f2696e"/>
<circle cx="59.15" cy="499.35" r="1.00" fill="#f2696e"/>
<circle cx="52.40" cy="498.94" r="1.00" fill="#f2696e"/>
<circle cx="53.90" cy="498.89" r="1.00" fill="#f2696e"/>
<circle cx="50.90" cy="498.87" r="1.00" fill="#f2696e"/>
<circle cx="55.40" cy="498.83" r="1.00" fill="#f2696e"/>
<circle cx="49.40" cy="498.82" r="1.00" fill="#f2696e"/>
<circle cx="56.90" cy="498.72" r="1.00" fill="#f2696e"/>
<circle cx="47.90" cy="498.67" r="1.00" fill="#f2696e"/>
<circle cx="46.40" cy="498.54" r="1.00" fill="#f2696e"/>
<circle cx="59.15" cy="498.40" r="1.00" fill="#f2696e"/>
<circle cx="59.15" cy="498.20" r="1.00" fill="#f2696e"/>
<circle cx="59.15" cy="498.14" r="1.00" fill="#f2696e"/>
<circle cx="59.15" cy="498.14" r="1.00" fill="#f2696e"/>
<circle cx="59.15" cy="498.13" r="1.00" fill="#f2696e"/>
<circle cx="59.15" cy="498.04" r="1.00" fill="#f2696e"/>
<circle cx="59.15" cy="498.03" r="1.00" fill="#f2696e"/>
<circle cx="59.15" cy="497.92" r="1.00" fill="#f2696e"/>
<circle cx="59.15" cy="497.77" r="1.00" fill="#f2696e"/>
<circle cx="59.15" cy="497.75" r="1.00" fill="#f2696e"/>
<circle cx="59.15" cy="497.74" r="1.00" fill="#f2696e"/>
<circle cx="59.15" cy="497.67" r="1.00" fill="#f2696e"/>
<circle cx="52.40" cy="497.42" r="1.00" fill="#f2696e"/>
<circle cx="53.90" cy="497.37" r="1.00" fill="#f2696e"/>
<circle cx="50.90" cy="497.33" r="1.00" fill="#f2696e"/>
<circle cx="55.40" cy="497.30" r="1.00" fill="#f2696e"/>
<circle cx="49.40" cy="497.28" r="1.00" fill="#f2696e"/>
<circle cx="57.65" cy="497.25" r="1.00" fill="#f2696e"/>
<circle cx="47.15" cy="497.20" r="1.00" fill="#f2696e"/>
<circle cx="59.15" cy="497.01" r="1.00" fill="#f2696e"/>
<circle cx="59.15" cy="496.67" r="1.00" fill="#f2696e"/>
<circle cx="59.15" cy="496.59" r="1.00" fill="#f2696e"/>
<circle cx="59.15" cy="496.50" r="1.00" fill="#f2696e"/>
<circle cx="59.15" cy="496.31" r="1.00" fill="#f2696e"/>
<circle cx="59.15" cy="496.19" r="1.00" fill="#f2696e"/>
<circle cx="59.15" cy="496.18" r="1.00" fill="#f2696e"/>
<circle cx="59.15" cy="496.17" r="1.00" fill="#f2696e"/>
<circle cx="52.40" cy="495.17" r="1.00" fill="#f2696e"/>
<circle cx="53.90" cy="495.15" r="1.00" fill="#f2696e"/>
<circle cx="52.40" cy="491.60" r="1.00" fill="#f2696e"/>
<circle cx="53.90" cy="490.52" r="1.00" fill="#f2696e"/>
<circle cx="50.90" cy="490.49" r="1.00" fill="#f2696e"/>
<circle cx="52.40" cy="488.53" r="1.00" fill="#f2696e"/>
<circle cx="52.40" cy="484.54" r="1.00" fill="#f2696e"/>
<circle cx="52.40" cy="479.22" r="1.00" fill="#f2696e"/>
<circle cx="52.40" cy="476.56" r="1.00" fill="#f2696e"/>
<circle cx="52.40" cy="472.57" r="1.00" fill="#f2696e"/>
<circle cx="52.40" cy="465.92" r="1.00" fill="#f2696e"/>
<circle cx="52.40" cy="454.62" r="1.00" fill="#f2696e"/>
<line x1="44.9" y1="496.91" x2="59.9" y2="496.91" stroke="#1a1a1a" stroke-width="1.5"/>
<line x1="73.8" y1="500.50" x2="73.8" y2="437.06" stroke="#58bcc8" stroke-width="0.9"/>
<line x1="71.39999999999999" y1="500.50" x2="76.39999999999999" y2="500.50" stroke="#58bcc8" stroke-width="0.9"/>
<line x1="71.39999999999999" y1="437.06" x2="76.39999999999999" y2="437.06" stroke="#58bcc8" stroke-width="0.9"/>
<path d="M73.80 499.30L74.95 501.40L72.65 501.40Z" fill="#58bcc8"/>
<path d="M75.30 499.29L76.45 501.39L74.15 501.39Z" fill="#58bcc8"/>
<path d="M72.30 499.29L73.45 501.39L71.15 501.39Z" fill="#58bcc8"/>
<path d="M76.80 499.25L77.95 501.35L75.65 501.35Z" fill="#58bcc8"/>
<path d="M70.80 499.23L71.95 501.33L69.65 501.33Z" fill="#58bcc8"/>
<path d="M78.30 499.20L79.45 501.30L77.15 501.30Z" fill="#58bcc8"/>
<path d="M69.30 499.10L70.45 501.20L68.15 501.20Z" fill="#58bcc8"/>
<path d="M79.80 499.05L80.95 501.15L78.65 501.15Z" fill="#58bcc8"/>
<path d="M67.80 498.87L68.95 500.97L66.65 500.97Z" fill="#58bcc8"/>
<path d="M80.55 498.80L81.70 500.90L79.40 500.90Z" fill="#58bcc8"/>
<path d="M80.55 498.79L81.70 500.89L79.40 500.89Z" fill="#58bcc8"/>
<path d="M80.55 498.73L81.70 500.83L79.40 500.83Z" fill="#58bcc8"/>
<path d="M80.55 498.69L81.70 500.79L79.40 500.79Z" fill="#58bcc8"/>
<path d="M80.55 498.69L81.70 500.79L79.40 500.79Z" fill="#58bcc8"/>
<path d="M80.55 498.46L81.70 500.56L79.40 500.56Z" fill="#58bcc8"/>
<path d="M80.55 498.41L81.70 500.51L79.40 500.51Z" fill="#58bcc8"/>
<path d="M80.55 498.36L81.70 500.46L79.40 500.46Z" fill="#58bcc8"/>
<path d="M80.55 498.36L81.70 500.46L79.40 500.46Z" fill="#58bcc8"/>
<path d="M80.55 498.25L81.70 500.35L79.40 500.35Z" fill="#58bcc8"/>
<path d="M80.55 498.16L81.70 500.26L79.40 500.26Z" fill="#58bcc8"/>
<path d="M80.55 498.07L81.70 500.17L79.40 500.17Z" fill="#58bcc8"/>
<path d="M80.55 498.05L81.70 500.15L79.40 500.15Z" fill="#58bcc8"/>
<path d="M80.55 498.05L81.70 500.15L79.40 500.15Z" fill="#58bcc8"/>
<path d="M80.55 498.02L81.70 500.12L79.40 500.12Z" fill="#58bcc8"/>
<path d="M74.55 497.96L75.70 500.06L73.40 500.06Z" fill="#58bcc8"/>
<path d="M73.05 497.93L74.20 500.03L71.90 500.03Z" fill="#58bcc8"/>
<path d="M76.05 497.93L77.20 500.03L74.90 500.03Z" fill="#58bcc8"/>
<path d="M71.55 497.87L72.70 499.97L70.40 499.97Z" fill="#58bcc8"/>
<path d="M77.55 497.78L78.70 499.88L76.40 499.88Z" fill="#58bcc8"/>
<path d="M70.05 497.62L71.20 499.72L68.90 499.72Z" fill="#58bcc8"/>
<path d="M79.05 497.51L80.20 499.61L77.90 499.61Z" fill="#58bcc8"/>
<path d="M68.55 497.44L69.70 499.54L67.40 499.54Z" fill="#58bcc8"/>
<path d="M80.55 497.44L81.70 499.54L79.40 499.54Z" fill="#58bcc8"/>
<path d="M80.55 497.31L81.70 499.41L79.40 499.41Z" fill="#58bcc8"/>
<path d="M80.55 497.07L81.70 499.17L79.40 499.17Z" fill="#58bcc8"/>
<path d="M80.55 496.92L81.70 499.02L79.40 499.02Z" fill="#58bcc8"/>
<path d="M80.55 496.91L81.70 499.01L79.40 499.01Z" fill="#58bcc8"/>
<path d="M80.55 496.85L81.70 498.95L79.40 498.95Z" fill="#58bcc8"/>
<path d="M80.55 496.81L81.70 498.91L79.40 498.91Z" fill="#58bcc8"/>
<path d="M80.55 496.79L81.70 498.89L79.40 498.89Z" fill="#58bcc8"/>
<path d="M80.55 496.64L81.70 498.74L79.40 498.74Z" fill="#58bcc8"/>
<path d="M73.80 496.60L74.95 498.70L72.65 498.70Z" fill="#58bcc8"/>
<path d="M75.30 496.46L76.45 498.56L74.15 498.56Z" fill="#58bcc8"/>
<path d="M72.30 496.45L73.45 498.55L71.15 498.55Z" fill="#58bcc8"/>
<path d="M76.80 496.40L77.95 498.50L75.65 498.50Z" fill="#58bcc8"/>
<path d="M80.55 496.34L81.70 498.44L79.40 498.44Z" fill="#58bcc8"/>
<path d="M70.80 495.95L71.95 498.05L69.65 498.05Z" fill="#58bcc8"/>
<path d="M78.30 495.82L79.45 497.92L77.15 497.92Z" fill="#58bcc8"/>
<path d="M69.30 495.75L70.45 497.85L68.15 497.85Z" fill="#58bcc8"/>
<path d="M73.80 494.85L74.95 496.95L72.65 496.95Z" fill="#58bcc8"/>
<path d="M75.30 494.81L76.45 496.91L74.15 496.91Z" fill="#58bcc8"/>
<path d="M72.30 494.60L73.45 496.70L71.15 496.70Z" fill="#58bcc8"/>
<path d="M76.80 494.45L77.95 496.55L75.65 496.55Z" fill="#58bcc8"/>
<path d="M70.80 494.32L71.95 496.42L69.65 496.42Z" fill="#58bcc8"/>
<path d="M78.30 493.76L79.45 495.86L77.15 495.86Z" fill="#58bcc8"/>
<path d="M73.80 492.46L74.95 494.56L72.65 494.56Z" fill="#58bcc8"/>
<path d="M75.30 492.45L76.45 494.55L74.15 494.55Z" fill="#58bcc8"/>
<path d="M72.30 492.12L73.45 494.22L71.15 494.22Z" fill="#58bcc8"/>
<path d="M76.80 492.01L77.95 494.11L75.65 494.11Z" fill="#58bcc8"/>
<path d="M70.80 491.98L71.95 494.08L69.65 494.08Z" fill="#58bcc8"/>
<path d="M73.80 490.70L74.95 492.80L72.65 492.80Z" fill="#58bcc8"/>
<path d="M75.30 490.61L76.45 492.71L74.15 492.71Z" fill="#58bcc8"/>
<path d="M72.30 490.36L73.45 492.46L71.15 492.46Z" fill="#58bcc8"/>
<path d="M76.80 490.20L77.95 492.30L75.65 492.30Z" fill="#58bcc8"/>
<path d="M70.80 490.05L71.95 492.15L69.65 492.15Z" fill="#58bcc8"/>
<path d="M73.80 488.89L74.95 490.99L72.65 490.99Z" fill="#58bcc8"/>
<path d="M75.30 488.36L76.45 490.46L74.15 490.46Z" fill="#58bcc8"/>
<path d="M72.30 488.32L73.45 490.42L71.15 490.42Z" fill="#58bcc8"/>
<path d="M76.80 487.68L77.95 489.78L75.65 489.78Z" fill="#58bcc8"/>
<path d="M73.80 487.12L74.95 489.22L72.65 489.22Z" fill="#58bcc8"/>
<path d="M75.30 486.82L76.45 488.92L74.15 488.92Z" fill="#58bcc8"/>
<path d="M73.80 485.55L74.95 487.65L72.65 487.65Z" fill="#58bcc8"/>
<path d="M73.80 484.05L74.95 486.15L72.65 486.15Z" fill="#58bcc8"/>
<path d="M73.80 480.68L74.95 482.78L72.65 482.78Z" fill="#58bcc8"/>
<path d="M73.80 475.36L74.95 477.46L72.65 477.46Z" fill="#58bcc8"/>
<path d="M73.80 472.49L74.95 474.59L72.65 474.59Z" fill="#58bcc8"/>
<path d="M73.80 470.04L74.95 472.14L72.65 472.14Z" fill="#58bcc8"/>
<path d="M73.80 464.72L74.95 466.82L72.65 466.82Z" fill="#58bcc8"/>
<path d="M73.80 459.40L74.95 461.50L72.65 461.50Z" fill="#58bcc8"/>
<path d="M73.80 454.08L74.95 456.18L72.65 456.18Z" fill="#58bcc8"/>
<path d="M73.80 446.10L74.95 448.20L72.65 448.20Z" fill="#58bcc8"/>
<path d="M73.80 440.78L74.95 442.88L72.65 442.88Z" fill="#58bcc8"/>
<path d="M73.80 435.86L74.95 437.96L72.65 437.96Z" fill="#58bcc8"/>
<line x1="66.3" y1="492.65" x2="81.3" y2="492.65" stroke="#1a1a1a" stroke-width="1.5"/>
<line x1="95.6" y1="500.50" x2="95.6" y2="411.12" stroke="#58b97f" stroke-width="0.9"/>
<line x1="93.19999999999999" y1="500.50" x2="98.19999999999999" y2="500.50" stroke="#58b97f" stroke-width="0.9"/>
<line x1="93.19999999999999" y1="411.12" x2="98.19999999999999" y2="411.12" stroke="#58b97f" stroke-width="0.9"/>
<path d="M95.60 499.20L96.90 500.50L95.60 501.80L94.30 500.50Z" fill="#58b97f"/>
<path d="M97.10 499.20L98.40 500.50L97.10 501.80L95.80 500.50Z" fill="#58b97f"/>
<path d="M94.10 499.06L95.40 500.36L94.10 501.66L92.80 500.36Z" fill="#58b97f"/>
<path d="M98.60 498.99L99.90 500.29L98.60 501.59L97.30 500.29Z" fill="#58b97f"/>
<path d="M92.60 498.94L93.90 500.24L92.60 501.54L91.30 500.24Z" fill="#58b97f"/>
<path d="M100.10 498.88L101.40 500.18L100.10 501.48L98.80 500.18Z" fill="#58b97f"/>
<path d="M91.10 498.88L92.40 500.18L91.10 501.48L89.80 500.18Z" fill="#58b97f"/>
<path d="M101.60 498.79L102.90 500.09L101.60 501.39L100.30 500.09Z" fill="#58b97f"/>
<path d="M89.60 498.59L90.90 499.89L89.60 501.19L88.30 499.89Z" fill="#58b97f"/>
<path d="M102.35 498.59L103.65 499.89L102.35 501.19L101.05 499.89Z" fill="#58b97f"/>
<path d="M102.35 498.46L103.65 499.76L102.35 501.06L101.05 499.76Z" fill="#58b97f"/>
<path d="M102.35 498.34L103.65 499.64L102.35 500.94L101.05 499.64Z" fill="#58b97f"/>
<path d="M102.35 498.33L103.65 499.63L102.35 500.93L101.05 499.63Z" fill="#58b97f"/>
<path d="M102.35 498.24L103.65 499.54L102.35 500.84L101.05 499.54Z" fill="#58b97f"/>
<path d="M102.35 498.13L103.65 499.43L102.35 500.73L101.05 499.43Z" fill="#58b97f"/>
<path d="M102.35 498.07L103.65 499.37L102.35 500.67L101.05 499.37Z" fill="#58b97f"/>
<path d="M102.35 498.03L103.65 499.33L102.35 500.63L101.05 499.33Z" fill="#58b97f"/>
<path d="M96.35 497.84L97.65 499.14L96.35 500.44L95.05 499.14Z" fill="#58b97f"/>
<path d="M94.85 497.71L96.15 499.01L94.85 500.31L93.55 499.01Z" fill="#58b97f"/>
<path d="M97.85 497.65L99.15 498.95L97.85 500.25L96.55 498.95Z" fill="#58b97f"/>
<path d="M93.35 497.61L94.65 498.91L93.35 500.21L92.05 498.91Z" fill="#58b97f"/>
<path d="M99.35 497.51L100.65 498.81L99.35 500.11L98.05 498.81Z" fill="#58b97f"/>
<path d="M91.85 497.46L93.15 498.76L91.85 500.06L90.55 498.76Z" fill="#58b97f"/>
<path d="M100.85 497.38L102.15 498.68L100.85 499.98L99.55 498.68Z" fill="#58b97f"/>
<path d="M102.35 497.38L103.65 498.68L102.35 499.98L101.05 498.68Z" fill="#58b97f"/>
<path d="M90.35 497.29L91.65 498.59L90.35 499.89L89.05 498.59Z" fill="#58b97f"/>
<path d="M102.35 497.28L103.65 498.58L102.35 499.88L101.05 498.58Z" fill="#58b97f"/>
<path d="M102.35 497.18L103.65 498.48L102.35 499.78L101.05 498.48Z" fill="#58b97f"/>
<path d="M102.35 497.12L103.65 498.42L102.35 499.72L101.05 498.42Z" fill="#58b97f"/>
<path d="M102.35 497.05L103.65 498.35L102.35 499.65L101.05 498.35Z" fill="#58b97f"/>
<path d="M102.35 496.94L103.65 498.24L102.35 499.54L101.05 498.24Z" fill="#58b97f"/>
<path d="M102.35 496.92L103.65 498.22L102.35 499.52L101.05 498.22Z" fill="#58b97f"/>
<path d="M102.35 496.89L103.65 498.19L102.35 499.49L101.05 498.19Z" fill="#58b97f"/>
<path d="M102.35 496.56L103.65 497.86L102.35 499.16L101.05 497.86Z" fill="#58b97f"/>
<path d="M102.35 496.53L103.65 497.83L102.35 499.13L101.05 497.83Z" fill="#58b97f"/>
<path d="M102.35 496.51L103.65 497.81L102.35 499.11L101.05 497.81Z" fill="#58b97f"/>
<path d="M95.60 496.18L96.90 497.48L95.60 498.78L94.30 497.48Z" fill="#58b97f"/>
<path d="M97.10 496.03L98.40 497.33L97.10 498.63L95.80 497.33Z" fill="#58b97f"/>
<path d="M94.10 496.00L95.40 497.30L94.10 498.60L92.80 497.30Z" fill="#58b97f"/>
<path d="M98.60 495.94L99.90 497.24L98.60 498.54L97.30 497.24Z" fill="#58b97f"/>
<path d="M92.60 495.80L93.90 497.10L92.60 498.40L91.30 497.10Z" fill="#58b97f"/>
<path d="M100.10 495.79L101.40 497.09L100.10 498.39L98.80 497.09Z" fill="#58b97f"/>
<path d="M91.10 495.43L92.40 496.73L91.10 498.03L89.80 496.73Z" fill="#58b97f"/>
<path d="M89.60 495.38L90.90 496.68L89.60 497.98L88.30 496.68Z" fill="#58b97f"/>
<path d="M102.35 495.37L103.65 496.67L102.35 497.97L101.05 496.67Z" fill="#58b97f"/>
<path d="M102.35 495.30L103.65 496.60L102.35 497.90L101.05 496.60Z" fill="#58b97f"/>
<path d="M102.35 495.12L103.65 496.42L102.35 497.72L101.05 496.42Z" fill="#58b97f"/>
<path d="M102.35 495.11L103.65 496.41L102.35 497.71L101.05 496.41Z" fill="#58b97f"/>
<path d="M102.35 494.81L103.65 496.11L102.35 497.41L101.05 496.11Z" fill="#58b97f"/>
<path d="M102.35 494.73L103.65 496.03L102.35 497.33L101.05 496.03Z" fill="#58b97f"/>
<path d="M95.60 494.48L96.90 495.78L95.60 497.08L94.30 495.78Z" fill="#58b97f"/>
<path d="M97.10 494.46L98.40 495.76L97.10 497.06L95.80 495.76Z" fill="#58b97f"/>
<path d="M94.10 494.11L95.40 495.41L94.10 496.71L92.80 495.41Z" fill="#58b97f"/>
<path d="M98.60 494.08L99.90 495.38L98.60 496.68L97.30 495.38Z" fill="#58b97f"/>
<path d="M92.60 494.00L93.90 495.30L92.60 496.60L91.30 495.30Z" fill="#58b97f"/>
<path d="M100.10 493.82L101.40 495.12L100.10 496.42L98.80 495.12Z" fill="#58b97f"/>
<path d="M91.10 493.55L92.40 494.85L91.10 496.15L89.80 494.85Z" fill="#58b97f"/>
<path d="M95.60 492.86L96.90 494.16L95.60 495.46L94.30 494.16Z" fill="#58b97f"/>
<path d="M97.10 492.84L98.40 494.14L97.10 495.44L95.80 494.14Z" fill="#58b97f"/>
<path d="M94.10 492.60L95.40 493.90L94.10 495.20L92.80 493.90Z" fill="#58b97f"/>
<path d="M98.60 492.58L99.90 493.88L98.60 495.18L97.30 493.88Z" fill="#58b97f"/>
<path d="M101.60 492.55L102.90 493.85L101.60 495.15L100.30 493.85Z" fill="#58b97f"/>
<path d="M92.60 492.39L93.90 493.69L92.60 494.99L91.30 493.69Z" fill="#58b97f"/>
<path d="M100.10 491.88L101.40 493.18L100.10 494.48L98.80 493.18Z" fill="#58b97f"/>
<path d="M95.60 491.31L96.90 492.61L95.60 493.91L94.30 492.61Z" fill="#58b97f"/>
<path d="M97.10 491.08L98.40 492.38L97.10 493.68L95.80 492.38Z" fill="#58b97f"/>
<path d="M94.10 491.03L95.40 492.33L94.10 493.63L92.80 492.33Z" fill="#58b97f"/>
<path d="M98.60 490.79L99.90 492.09L98.60 493.39L97.30 492.09Z" fill="#58b97f"/>
<path d="M92.60 490.62L93.90 491.92L92.60 493.22L91.30 491.92Z" fill="#58b97f"/>
<path d="M100.10 490.36L101.40 491.66L100.10 492.96L98.80 491.66Z" fill="#58b97f"/>
<path d="M91.10 490.28L92.40 491.58L91.10 492.88L89.80 491.58Z" fill="#58b97f"/>
<path d="M101.60 489.96L102.90 491.26L101.60 492.56L100.30 491.26Z" fill="#58b97f"/>
<path d="M95.60 489.47L96.90 490.77L95.60 492.07L94.30 490.77Z" fill="#58b97f"/>
<path d="M97.10 488.53L98.40 489.83L97.10 491.13L95.80 489.83Z" fill="#58b97f"/>
<path d="M94.85 488.05L96.15 489.35L94.85 490.65L93.55 489.35Z" fill="#58b97f"/>
<path d="M96.35 487.14L97.65 488.44L96.35 489.74L95.05 488.44Z" fill="#58b97f"/>
<path d="M97.85 486.85L99.15 488.15L97.85 489.45L96.55 488.15Z" fill="#58b97f"/>
<path d="M94.85 486.52L96.15 487.82L94.85 489.12L93.55 487.82Z" fill="#58b97f"/>
<path d="M93.35 486.03L94.65 487.33L93.35 488.63L92.05 487.33Z" fill="#58b97f"/>
<path d="M96.35 485.27L97.65 486.57L96.35 487.87L95.05 486.57Z" fill="#58b97f"/>
<path d="M94.85 484.77L96.15 486.07L94.85 487.37L93.55 486.07Z" fill="#58b97f"/>
<path d="M97.85 484.11L99.15 485.41L97.85 486.71L96.55 485.41Z" fill="#58b97f"/>
<path d="M93.35 484.09L94.65 485.39L93.35 486.69L92.05 485.39Z" fill="#58b97f"/>
<path d="M96.35 483.58L97.65 484.88L96.35 486.18L95.05 484.88Z" fill="#58b97f"/>
<path d="M94.85 483.08L96.15 484.38L94.85 485.68L93.55 484.38Z" fill="#58b97f"/>
<path d="M97.85 482.51L99.15 483.81L97.85 485.11L96.55 483.81Z" fill="#58b97f"/>
<path d="M93.35 482.51L94.65 483.81L93.35 485.11L92.05 483.81Z" fill="#58b97f"/>
<path d="M95.60 481.16L96.90 482.46L95.60 483.76L94.30 482.46Z" fill="#58b97f"/>
<path d="M97.10 481.08L98.40 482.38L97.10 483.68L95.80 482.38Z" fill="#58b97f"/>
<path d="M95.60 479.55L96.90 480.85L95.60 482.15L94.30 480.85Z" fill="#58b97f"/>
<path d="M95.60 477.29L96.90 478.59L95.60 479.89L94.30 478.59Z" fill="#58b97f"/>
<path d="M97.10 476.32L98.40 477.62L97.10 478.92L95.80 477.62Z" fill="#58b97f"/>
<path d="M95.60 475.31L96.90 476.61L95.60 477.91L94.30 476.61Z" fill="#58b97f"/>
<path d="M95.60 469.94L96.90 471.24L95.60 472.54L94.30 471.24Z" fill="#58b97f"/>
<path d="M95.60 464.62L96.90 465.92L95.60 467.22L94.30 465.92Z" fill="#58b97f"/>
<path d="M96.35 463.14L97.65 464.44L96.35 465.74L95.05 464.44Z" fill="#58b97f"/>
<path d="M95.60 459.30L96.90 460.60L95.60 461.90L94.30 460.60Z" fill="#58b97f"/>
<path d="M95.60 455.31L96.90 456.61L95.60 457.91L94.30 456.61Z" fill="#58b97f"/>
<path d="M95.60 448.66L96.90 449.96L95.60 451.26L94.30 449.96Z" fill="#58b97f"/>
<path d="M95.60 443.34L96.90 444.64L95.60 445.94L94.30 444.64Z" fill="#58b97f"/>
<path d="M95.60 436.69L96.90 437.99L95.60 439.29L94.30 437.99Z" fill="#58b97f"/>
<path d="M95.60 430.04L96.90 431.34L95.60 432.64L94.30 431.34Z" fill="#58b97f"/>
<path d="M95.60 423.39L96.90 424.69L95.60 425.99L94.30 424.69Z" fill="#58b97f"/>
<path d="M95.60 416.74L96.90 418.04L95.60 419.34L94.30 418.04Z" fill="#58b97f"/>
<path d="M95.60 409.82L96.90 411.12L95.60 412.42L94.30 411.12Z" fill="#58b97f"/>
<line x1="88.1" y1="488.53" x2="103.1" y2="488.53" stroke="#1a1a1a" stroke-width="1.5"/>
<path d="M38.1 393.35V500.5H110" fill="none" stroke="#333" stroke-width="1.5"/>
<line x1="33.5" y1="500.50" x2="38.1" y2="500.50" stroke="#333" stroke-width="1.5"/>
<text x="33.7" y="503.50" font-size="7.8" text-anchor="end" fill="#2a2a2a" stroke="#2a2a2a" stroke-width="0.1">0.00</text>
<line x1="33.5" y1="473.90" x2="38.1" y2="473.90" stroke="#333" stroke-width="1.5"/>
<text x="33.7" y="476.90" font-size="7.8" text-anchor="end" fill="#2a2a2a" stroke="#2a2a2a" stroke-width="0.1">0.02</text>
<line x1="33.5" y1="447.30" x2="38.1" y2="447.30" stroke="#333" stroke-width="1.5"/>
<text x="33.7" y="450.30" font-size="7.8" text-anchor="end" fill="#2a2a2a" stroke="#2a2a2a" stroke-width="0.1">0.04</text>
<line x1="33.5" y1="420.70" x2="38.1" y2="420.70" stroke="#333" stroke-width="1.5"/>
<text x="33.7" y="423.70" font-size="7.8" text-anchor="end" fill="#2a2a2a" stroke="#2a2a2a" stroke-width="0.1">0.06</text>
<line x1="33.5" y1="394.10" x2="38.1" y2="394.10" stroke="#333" stroke-width="1.5"/>
<text x="33.7" y="397.10" font-size="7.8" text-anchor="end" fill="#2a2a2a" stroke="#2a2a2a" stroke-width="0.1">0.08</text>
<line x1="52.4" y1="500.5" x2="52.4" y2="505.5" stroke="#333" stroke-width="1.3"/>
<text x="50.9" y="514.5" font-size="6.3" text-anchor="middle" fill="#222" stroke="#222" stroke-width="0.12">PIM</text>
<line x1="73.8" y1="500.5" x2="73.8" y2="505.5" stroke="#333" stroke-width="1.3"/>
<text x="74.0" y="514.5" font-size="6.3" text-anchor="middle" fill="#222" stroke="#222" stroke-width="0.12">CER</text>
<line x1="95.6" y1="500.5" x2="95.6" y2="505.5" stroke="#333" stroke-width="1.3"/>
<text x="99.1" y="514.5" font-size="6.3" text-anchor="middle" fill="#222" stroke="#222" stroke-width="0.12">BIG</text>
<text transform="translate(14.1,447.4) rotate(-90)" font-size="7.6" text-anchor="middle" fill="#777">Relative abundance (%)</text>
<circle cx="113.70" cy="402.50" r="2.60" fill="#f2696e"/>
<text x="123.7" y="407.5" font-size="9" fill="#222" stroke="#222" stroke-width="0.15">PIM</text>
<path d="M113.70 415.56L116.23 420.18L111.17 420.18Z" fill="#58bcc8"/>
<text x="122.1" y="421.2" font-size="9" fill="#222" stroke="#222" stroke-width="0.15">CER</text>
<path d="M113.70 431.43L116.17 433.90L113.70 436.37L111.23 433.90Z" fill="#58b97f"/>
<text x="122.7" y="436.9" font-size="9" fill="#222" stroke="#222" stroke-width="0.15">BIG</text>
<text x="58.0" y="395.9" font-size="6.9" text-anchor="middle" fill="#8a8a8a" font-family="DejaVu Sans,sans-serif">★</text><text x="68.0" y="395.9" font-size="6.9" text-anchor="middle" fill="#8a8a8a" font-family="DejaVu Sans,sans-serif">★</text><text x="78.0" y="395.9" font-size="6.9" text-anchor="middle" fill="#8a8a8a" font-family="DejaVu Sans,sans-serif">★</text><text x="87.7" y="395.9" font-size="6.9" text-anchor="middle" fill="#8a8a8a" font-family="DejaVu Sans,sans-serif">★</text>
<path d="M50.0 403.0V400.2Q50.0 399.4 50.8 399.4H97.6Q98.4 399.4 98.4 400.2V403.0" fill="none" stroke="#333" stroke-width="1.15"/>
<text x="76.4" y="410.0" font-size="8.4" text-anchor="middle" fill="#8c8c8c" font-family="Liberation Sans,sans-serif">*</text><text x="82.0" y="410.0" font-size="8.4" text-anchor="middle" fill="#8c8c8c" font-family="Liberation Sans,sans-serif">*</text><text x="87.5" y="410.0" font-size="8.4" text-anchor="middle" fill="#8c8c8c" font-family="Liberation Sans,sans-serif">*</text><text x="93.0" y="410.0" font-size="8.4" text-anchor="middle" fill="#8c8c8c" font-family="Liberation Sans,sans-serif">*</text>
<path d="M72.4 411.4V409.8Q72.4 409.0 73.2 409.0H97.6Q98.4 409.0 98.4 409.8V411.4" fill="none" stroke="#333" stroke-width="1.15"/>
<text x="51.0" y="432.8" font-size="8.4" text-anchor="middle" fill="#8c8c8c" font-family="Liberation Sans,sans-serif">*</text><text x="56.4" y="432.8" font-size="8.4" text-anchor="middle" fill="#8c8c8c" font-family="Liberation Sans,sans-serif">*</text><text x="61.7" y="432.8" font-size="8.4" text-anchor="middle" fill="#8c8c8c" font-family="Liberation Sans,sans-serif">*</text><text x="67.0" y="432.8" font-size="8.4" text-anchor="middle" fill="#8c8c8c" font-family="Liberation Sans,sans-serif">*</text>
<path d="M46.4 434.2V432.8Q46.4 432.0 47.2 432.0H72.2Q73.0 432.0 73.0 432.8V434.2" fill="none" stroke="#333" stroke-width="1.15"/>
<text x="149.3" y="385.6" font-size="13.2" fill="#111">F</text>
<line x1="197.8" y1="500.30" x2="197.8" y2="446.56" stroke="#f2696e" stroke-width="0.9"/>
<line x1="195.4" y1="500.30" x2="200.4" y2="500.30" stroke="#f2696e" stroke-width="0.9"/>
<line x1="195.4" y1="446.56" x2="200.4" y2="446.56" stroke="#f2696e" stroke-width="0.9"/>
<circle cx="197.80" cy="500.30" r="1.00" fill="#f2696e"/>
<circle cx="197.80" cy="490.36" r="1.00" fill="#f2696e"/>
<circle cx="199.70" cy="489.96" r="1.00" fill="#f2696e"/>
<circle cx="197.80" cy="488.20" r="1.00" fill="#f2696e"/>
<circle cx="199.70" cy="486.69" r="1.00" fill="#f2696e"/>
<circle cx="197.80" cy="486.12" r="1.00" fill="#f2696e"/>
<circle cx="197.80" cy="482.67" r="1.00" fill="#f2696e"/>
<circle cx="199.70" cy="482.26" r="1.00" fill="#f2696e"/>
<circle cx="195.90" cy="481.82" r="1.00" fill="#f2696e"/>
<circle cx="201.60" cy="481.65" r="1.00" fill="#f2696e"/>
<circle cx="194.00" cy="481.45" r="1.00" fill="#f2696e"/>
<circle cx="197.80" cy="479.85" r="1.00" fill="#f2696e"/>
<circle cx="199.70" cy="479.64" r="1.00" fill="#f2696e"/>
<circle cx="197.80" cy="476.73" r="1.00" fill="#f2696e"/>
<circle cx="199.70" cy="475.58" r="1.00" fill="#f2696e"/>
<circle cx="197.80" cy="474.11" r="1.00" fill="#f2696e"/>
<circle cx="199.70" cy="473.58" r="1.00" fill="#f2696e"/>
<circle cx="195.90" cy="472.75" r="1.00" fill="#f2696e"/>
<circle cx="197.80" cy="471.81" r="1.00" fill="#f2696e"/>
<circle cx="197.80" cy="469.69" r="1.00" fill="#f2696e"/>
<circle cx="199.70" cy="469.04" r="1.00" fill="#f2696e"/>
<circle cx="197.80" cy="467.77" r="1.00" fill="#f2696e"/>
<circle cx="195.90" cy="467.47" r="1.00" fill="#f2696e"/>
<circle cx="199.70" cy="466.65" r="1.00" fill="#f2696e"/>
<circle cx="201.60" cy="466.39" r="1.00" fill="#f2696e"/>
<circle cx="197.80" cy="465.52" r="1.00" fill="#f2696e"/>
<circle cx="195.90" cy="465.30" r="1.00" fill="#f2696e"/>
<circle cx="197.80" cy="458.83" r="1.00" fill="#f2696e"/>
<circle cx="199.70" cy="457.34" r="1.00" fill="#f2696e"/>
<circle cx="197.80" cy="456.12" r="1.00" fill="#f2696e"/>
<circle cx="195.90" cy="456.06" r="1.00" fill="#f2696e"/>
<circle cx="197.80" cy="452.51" r="1.00" fill="#f2696e"/>
<circle cx="197.80" cy="450.39" r="1.00" fill="#f2696e"/>
<circle cx="197.80" cy="446.56" r="1.00" fill="#f2696e"/>
<line x1="190.3" y1="478.21" x2="205.3" y2="478.21" stroke="#1a1a1a" stroke-width="1.5"/>
<line x1="219" y1="500.30" x2="219" y2="415.98" stroke="#58bcc8" stroke-width="0.9"/>
<line x1="216.6" y1="500.30" x2="221.6" y2="500.30" stroke="#58bcc8" stroke-width="0.9"/>
<line x1="216.6" y1="415.98" x2="221.6" y2="415.98" stroke="#58bcc8" stroke-width="0.9"/>
<path d="M219.00 499.10L220.15 501.20L217.85 501.20Z" fill="#58bcc8"/>
<path d="M219.00 484.23L220.15 486.33L217.85 486.33Z" fill="#58bcc8"/>
<path d="M219.00 480.80L220.15 482.90L217.85 482.90Z" fill="#58bcc8"/>
<path d="M220.90 480.77L222.05 482.87L219.75 482.87Z" fill="#58bcc8"/>
<path d="M219.95 478.98L221.10 481.08L218.80 481.08Z" fill="#58bcc8"/>
<path d="M219.00 474.83L220.15 476.93L217.85 476.93Z" fill="#58bcc8"/>
<path d="M219.00 472.29L220.15 474.39L217.85 474.39Z" fill="#58bcc8"/>
<path d="M219.00 469.07L220.15 471.17L217.85 471.17Z" fill="#58bcc8"/>
<path d="M220.90 468.89L222.05 470.99L219.75 470.99Z" fill="#58bcc8"/>
<path d="M217.10 468.42L218.25 470.52L215.95 470.52Z" fill="#58bcc8"/>
<path d="M222.80 468.17L223.95 470.27L221.65 470.27Z" fill="#58bcc8"/>
<path d="M215.20 467.88L216.35 469.98L214.05 469.98Z" fill="#58bcc8"/>
<path d="M224.70 467.36L225.85 469.46L223.55 469.46Z" fill="#58bcc8"/>
<path d="M219.00 466.16L220.15 468.26L217.85 468.26Z" fill="#58bcc8"/>
<path d="M220.90 465.11L222.05 467.21L219.75 467.21Z" fill="#58bcc8"/>
<path d="M219.00 463.49L220.15 465.59L217.85 465.59Z" fill="#58bcc8"/>
<path d="M220.90 462.47L222.05 464.57L219.75 464.57Z" fill="#58bcc8"/>
<path d="M217.10 462.41L218.25 464.51L215.95 464.51Z" fill="#58bcc8"/>
<path d="M222.80 462.38L223.95 464.48L221.65 464.48Z" fill="#58bcc8"/>
<path d="M219.00 460.58L220.15 462.68L217.85 462.68Z" fill="#58bcc8"/>
<path d="M220.90 460.30L222.05 462.40L219.75 462.40Z" fill="#58bcc8"/>
<path d="M217.10 459.90L218.25 462.00L215.95 462.00Z" fill="#58bcc8"/>
<path d="M219.00 458.18L220.15 460.28L217.85 460.28Z" fill="#58bcc8"/>
<path d="M220.90 457.95L222.05 460.05L219.75 460.05Z" fill="#58bcc8"/>
<path d="M217.10 457.72L218.25 459.82L215.95 459.82Z" fill="#58bcc8"/>
<path d="M222.80 457.67L223.95 459.77L221.65 459.77Z" fill="#58bcc8"/>
<path d="M215.20 457.51L216.35 459.61L214.05 459.61Z" fill="#58bcc8"/>
<path d="M219.00 455.27L220.15 457.37L217.85 457.37Z" fill="#58bcc8"/>
<path d="M220.90 454.94L222.05 457.04L219.75 457.04Z" fill="#58bcc8"/>
<path d="M217.10 454.62L218.25 456.72L215.95 456.72Z" fill="#58bcc8"/>
<path d="M222.80 454.13L223.95 456.23L221.65 456.23Z" fill="#58bcc8"/>
<path d="M215.20 453.86L216.35 455.96L214.05 455.96Z" fill="#58bcc8"/>
<path d="M224.70 453.71L225.85 455.81L223.55 455.81Z" fill="#58bcc8"/>
<path d="M224.70 453.68L225.85 455.78L223.55 455.78Z" fill="#58bcc8"/>
<path d="M219.00 453.09L220.15 455.19L217.85 455.19Z" fill="#58bcc8"/>
<path d="M220.90 452.84L222.05 454.94L219.75 454.94Z" fill="#58bcc8"/>
<path d="M219.00 450.81L220.15 452.91L217.85 452.91Z" fill="#58bcc8"/>
<path d="M220.90 450.29L222.05 452.39L219.75 452.39Z" fill="#58bcc8"/>
<path d="M217.10 450.14L218.25 452.24L215.95 452.24Z" fill="#58bcc8"/>
<path d="M222.80 449.10L223.95 451.20L221.65 451.20Z" fill="#58bcc8"/>
<path d="M215.20 448.96L216.35 451.06L214.05 451.06Z" fill="#58bcc8"/>
<path d="M219.00 448.09L220.15 450.19L217.85 450.19Z" fill="#58bcc8"/>
<path d="M220.90 447.94L222.05 450.04L219.75 450.04Z" fill="#58bcc8"/>
<path d="M217.10 447.41L218.25 449.51L215.95 449.51Z" fill="#58bcc8"/>
<path d="M222.80 447.17L223.95 449.27L221.65 449.27Z" fill="#58bcc8"/>
<path d="M215.20 447.04L216.35 449.14L214.05 449.14Z" fill="#58bcc8"/>
<path d="M224.70 446.66L225.85 448.76L223.55 448.76Z" fill="#58bcc8"/>
<path d="M219.00 444.61L220.15 446.71L217.85 446.71Z" fill="#58bcc8"/>
<path d="M220.90 444.35L222.05 446.45L219.75 446.45Z" fill="#58bcc8"/>
<path d="M217.10 444.00L218.25 446.10L215.95 446.10Z" fill="#58bcc8"/>
<path d="M219.00 442.42L220.15 444.52L217.85 444.52Z" fill="#58bcc8"/>
<path d="M220.90 441.62L222.05 443.72L219.75 443.72Z" fill="#58bcc8"/>
<path d="M217.10 441.25L218.25 443.35L215.95 443.35Z" fill="#58bcc8"/>
<path d="M222.80 440.92L223.95 443.02L221.65 443.02Z" fill="#58bcc8"/>
<path d="M219.00 440.38L220.15 442.48L217.85 442.48Z" fill="#58bcc8"/>
<path d="M215.20 440.15L216.35 442.25L214.05 442.25Z" fill="#58bcc8"/>
<path d="M224.70 440.14L225.85 442.24L223.55 442.24Z" fill="#58bcc8"/>
<path d="M219.00 437.60L220.15 439.70L217.85 439.70Z" fill="#58bcc8"/>
<path d="M220.90 437.24L222.05 439.34L219.75 439.34Z" fill="#58bcc8"/>
<path d="M217.10 436.47L218.25 438.57L215.95 438.57Z" fill="#58bcc8"/>
<path d="M219.00 435.62L220.15 437.72L217.85 437.72Z" fill="#58bcc8"/>
<path d="M221.85 435.56L223.00 437.66L220.70 437.66Z" fill="#58bcc8"/>
<path d="M215.20 435.07L216.35 437.17L214.05 437.17Z" fill="#58bcc8"/>
<path d="M223.75 434.87L224.90 436.97L222.60 436.97Z" fill="#58bcc8"/>
<path d="M224.70 434.76L225.85 436.86L223.55 436.86Z" fill="#58bcc8"/>
<path d="M219.95 433.86L221.10 435.96L218.80 435.96Z" fill="#58bcc8"/>
<path d="M218.05 432.74L219.20 434.84L216.90 434.84Z" fill="#58bcc8"/>
<path d="M219.95 431.58L221.10 433.68L218.80 433.68Z" fill="#58bcc8"/>
<path d="M219.00 423.59L220.15 425.69L217.85 425.69Z" fill="#58bcc8"/>
<path d="M219.00 420.30L220.15 422.40L217.85 422.40Z" fill="#58bcc8"/>
<path d="M220.90 419.16L222.05 421.26L219.75 421.26Z" fill="#58bcc8"/>
<path d="M217.10 419.16L218.25 421.26L215.95 421.26Z" fill="#58bcc8"/>
<path d="M219.00 414.78L220.15 416.88L217.85 416.88Z" fill="#58bcc8"/>
<line x1="211.5" y1="454.63" x2="226.5" y2="454.63" stroke="#1a1a1a" stroke-width="1.5"/>
<line x1="240.5" y1="494.57" x2="240.5" y2="417.89" stroke="#58b97f" stroke-width="0.9"/>
<line x1="238.1" y1="494.57" x2="243.1" y2="494.57" stroke="#58b97f" stroke-width="0.9"/>
<line x1="238.1" y1="417.89" x2="243.1" y2="417.89" stroke="#58b97f" stroke-width="0.9"/>
<path d="M240.50 493.27L241.80 494.57L240.50 495.87L239.20 494.57Z" fill="#58b97f"/>
<path d="M242.40 492.37L243.70 493.67L242.40 494.97L241.10 493.67Z" fill="#58b97f"/>
<path d="M239.55 491.57L240.85 492.87L239.55 494.17L238.25 492.87Z" fill="#58b97f"/>
<path d="M241.45 490.38L242.75 491.68L241.45 492.98L240.15 491.68Z" fill="#58b97f"/>
<path d="M238.60 489.67L239.90 490.97L238.60 492.27L237.30 490.97Z" fill="#58b97f"/>
<path d="M240.50 484.97L241.80 486.27L240.50 487.57L239.20 486.27Z" fill="#58b97f"/>
<path d="M242.40 484.89L243.70 486.19L242.40 487.49L241.10 486.19Z" fill="#58b97f"/>
<path d="M240.50 481.73L241.80 483.03L240.50 484.33L239.20 483.03Z" fill="#58b97f"/>
<path d="M242.40 480.46L243.70 481.76L242.40 483.06L241.10 481.76Z" fill="#58b97f"/>
<path d="M240.50 478.10L241.80 479.40L240.50 480.70L239.20 479.40Z" fill="#58b97f"/>
<path d="M242.40 477.16L243.70 478.46L242.40 479.76L241.10 478.46Z" fill="#58b97f"/>
<path d="M238.60 476.57L239.90 477.87L238.60 479.17L237.30 477.87Z" fill="#58b97f"/>
<path d="M244.30 476.55L245.60 477.85L244.30 479.15L243.00 477.85Z" fill="#58b97f"/>
<path d="M240.50 476.10L241.80 477.40L240.50 478.70L239.20 477.40Z" fill="#58b97f"/>
<path d="M240.50 473.63L241.80 474.93L240.50 476.23L239.20 474.93Z" fill="#58b97f"/>
<path d="M242.40 472.48L243.70 473.78L242.40 475.08L241.10 473.78Z" fill="#58b97f"/>
<path d="M238.60 472.07L239.90 473.37L238.60 474.67L237.30 473.37Z" fill="#58b97f"/>
<path d="M244.30 471.96L245.60 473.26L244.30 474.56L243.00 473.26Z" fill="#58b97f"/>
<path d="M240.50 470.96L241.80 472.26L240.50 473.56L239.20 472.26Z" fill="#58b97f"/>
<path d="M236.70 470.72L238.00 472.02L236.70 473.32L235.40 472.02Z" fill="#58b97f"/>
<path d="M242.40 470.57L243.70 471.87L242.40 473.17L241.10 471.87Z" fill="#58b97f"/>
<path d="M246.20 470.48L247.50 471.78L246.20 473.08L244.90 471.78Z" fill="#58b97f"/>
<path d="M238.60 469.95L239.90 471.25L238.60 472.55L237.30 471.25Z" fill="#58b97f"/>
<path d="M244.30 469.94L245.60 471.24L244.30 472.54L243.00 471.24Z" fill="#58b97f"/>
<path d="M240.50 468.42L241.80 469.72L240.50 471.02L239.20 469.72Z" fill="#58b97f"/>
<path d="M242.40 468.09L243.70 469.39L242.40 470.69L241.10 469.39Z" fill="#58b97f"/>
<path d="M240.50 466.06L241.80 467.36L240.50 468.66L239.20 467.36Z" fill="#58b97f"/>
<path d="M242.40 465.78L243.70 467.08L242.40 468.38L241.10 467.08Z" fill="#58b97f"/>
<path d="M238.60 465.61L239.90 466.91L238.60 468.21L237.30 466.91Z" fill="#58b97f"/>
<path d="M244.30 465.46L245.60 466.76L244.30 468.06L243.00 466.76Z" fill="#58b97f"/>
<path d="M236.70 465.40L238.00 466.70L236.70 468.00L235.40 466.70Z" fill="#58b97f"/>
<path d="M246.20 465.34L247.50 466.64L246.20 467.94L244.90 466.64Z" fill="#58b97f"/>
<path d="M246.20 464.83L247.50 466.13L246.20 467.43L244.90 466.13Z" fill="#58b97f"/>
<path d="M246.20 464.18L247.50 465.48L246.20 466.78L244.90 465.48Z" fill="#58b97f"/>
<path d="M240.50 463.36L241.80 464.66L240.50 465.96L239.20 464.66Z" fill="#58b97f"/>
<path d="M242.40 463.27L243.70 464.57L242.40 465.87L241.10 464.57Z" fill="#58b97f"/>
<path d="M238.60 463.07L239.90 464.37L238.60 465.67L237.30 464.37Z" fill="#58b97f"/>
<path d="M244.30 462.44L245.60 463.74L244.30 465.04L243.00 463.74Z" fill="#58b97f"/>
<path d="M240.50 461.33L241.80 462.63L240.50 463.93L239.20 462.63Z" fill="#58b97f"/>
<path d="M242.40 460.71L243.70 462.01L242.40 463.31L241.10 462.01Z" fill="#58b97f"/>
<path d="M238.60 460.48L239.90 461.78L238.60 463.08L237.30 461.78Z" fill="#58b97f"/>
<path d="M244.30 459.96L245.60 461.26L244.30 462.56L243.00 461.26Z" fill="#58b97f"/>
<path d="M236.70 459.49L238.00 460.79L236.70 462.09L235.40 460.79Z" fill="#58b97f"/>
<path d="M240.50 459.31L241.80 460.61L240.50 461.91L239.20 460.61Z" fill="#58b97f"/>
<path d="M246.20 459.21L247.50 460.51L246.20 461.81L244.90 460.51Z" fill="#58b97f"/>
<path d="M246.20 459.09L247.50 460.39L246.20 461.69L244.90 460.39Z" fill="#58b97f"/>
<path d="M246.20 459.06L247.50 460.36L246.20 461.66L244.90 460.36Z" fill="#58b97f"/>
<path d="M242.40 458.54L243.70 459.84L242.40 461.14L241.10 459.84Z" fill="#58b97f"/>
<path d="M238.60 458.44L239.90 459.74L238.60 461.04L237.30 459.74Z" fill="#58b97f"/>
<path d="M244.30 457.97L245.60 459.27L244.30 460.57L243.00 459.27Z" fill="#58b97f"/>
<path d="M240.50 457.26L241.80 458.56L240.50 459.86L239.20 458.56Z" fill="#58b97f"/>
<path d="M236.70 456.89L238.00 458.19L236.70 459.49L235.40 458.19Z" fill="#58b97f"/>
<path d="M246.20 456.69L247.50 457.99L246.20 459.29L244.90 457.99Z" fill="#58b97f"/>
<path d="M240.50 455.35L241.80 456.65L240.50 457.95L239.20 456.65Z" fill="#58b97f"/>
<path d="M242.40 455.12L243.70 456.42L242.40 457.72L241.10 456.42Z" fill="#58b97f"/>
<path d="M238.60 455.09L239.90 456.39L238.60 457.69L237.30 456.39Z" fill="#58b97f"/>
<path d="M244.30 454.09L245.60 455.39L244.30 456.69L243.00 455.39Z" fill="#58b97f"/>
<path d="M236.70 453.68L238.00 454.98L236.70 456.28L235.40 454.98Z" fill="#58b97f"/>
<path d="M240.50 452.43L241.80 453.73L240.50 455.03L239.20 453.73Z" fill="#58b97f"/>
<path d="M242.40 451.55L243.70 452.85L242.40 454.15L241.10 452.85Z" fill="#58b97f"/>
<path d="M238.60 451.40L239.90 452.70L238.60 454.00L237.30 452.70Z" fill="#58b97f"/>
<path d="M244.30 451.14L245.60 452.44L244.30 453.74L243.00 452.44Z" fill="#58b97f"/>
<path d="M236.70 451.07L238.00 452.37L236.70 453.67L235.40 452.37Z" fill="#58b97f"/>
<path d="M246.20 450.98L247.50 452.28L246.20 453.58L244.90 452.28Z" fill="#58b97f"/>
<path d="M246.20 450.76L247.50 452.06L246.20 453.36L244.90 452.06Z" fill="#58b97f"/>
<path d="M246.20 450.58L247.50 451.88L246.20 453.18L244.90 451.88Z" fill="#58b97f"/>
<path d="M240.50 450.20L241.80 451.50L240.50 452.80L239.20 451.50Z" fill="#58b97f"/>
<path d="M246.20 450.19L247.50 451.49L246.20 452.79L244.90 451.49Z" fill="#58b97f"/>
<path d="M246.20 449.76L247.50 451.06L246.20 452.36L244.90 451.06Z" fill="#58b97f"/>
<path d="M246.20 449.74L247.50 451.04L246.20 452.34L244.90 451.04Z" fill="#58b97f"/>
<path d="M242.40 449.62L243.70 450.92L242.40 452.22L241.10 450.92Z" fill="#58b97f"/>
<path d="M238.60 449.41L239.90 450.71L238.60 452.01L237.30 450.71Z" fill="#58b97f"/>
<path d="M244.30 448.93L245.60 450.23L244.30 451.53L243.00 450.23Z" fill="#58b97f"/>
<path d="M240.50 447.28L241.80 448.58L240.50 449.88L239.20 448.58Z" fill="#58b97f"/>
<path d="M242.40 446.27L243.70 447.57L242.40 448.87L241.10 447.57Z" fill="#58b97f"/>
<path d="M238.60 446.17L239.90 447.47L238.60 448.77L237.30 447.47Z" fill="#58b97f"/>
<path d="M244.30 445.90L245.60 447.20L244.30 448.50L243.00 447.20Z" fill="#58b97f"/>
<path d="M236.70 445.73L238.00 447.03L236.70 448.33L235.40 447.03Z" fill="#58b97f"/>
<path d="M240.50 444.93L241.80 446.23L240.50 447.53L239.20 446.23Z" fill="#58b97f"/>
<path d="M242.40 444.05L243.70 445.35L242.40 446.65L241.10 445.35Z" fill="#58b97f"/>
<path d="M238.60 443.80L239.90 445.10L238.60 446.40L237.30 445.10Z" fill="#58b97f"/>
<path d="M240.50 442.68L241.80 443.98L240.50 445.28L239.20 443.98Z" fill="#58b97f"/>
<path d="M243.35 442.23L244.65 443.53L243.35 444.83L242.05 443.53Z" fill="#58b97f"/>
<path d="M238.60 441.08L239.90 442.38L238.60 443.68L237.30 442.38Z" fill="#58b97f"/>
<path d="M240.50 439.45L241.80 440.75L240.50 442.05L239.20 440.75Z" fill="#58b97f"/>
<path d="M242.40 438.51L243.70 439.81L242.40 441.11L241.10 439.81Z" fill="#58b97f"/>
<path d="M238.60 438.35L239.90 439.65L238.60 440.95L237.30 439.65Z" fill="#58b97f"/>
<path d="M244.30 437.80L245.60 439.10L244.30 440.40L243.00 439.10Z" fill="#58b97f"/>
<path d="M236.70 437.58L238.00 438.88L236.70 440.18L235.40 438.88Z" fill="#58b97f"/>
<path d="M240.50 436.49L241.80 437.79L240.50 439.09L239.20 437.79Z" fill="#58b97f"/>
<path d="M242.40 435.93L243.70 437.23L242.40 438.53L241.10 437.23Z" fill="#58b97f"/>
<path d="M240.50 431.77L241.80 433.07L240.50 434.37L239.20 433.07Z" fill="#58b97f"/>
<path d="M242.40 431.74L243.70 433.04L242.40 434.34L241.10 433.04Z" fill="#58b97f"/>
<path d="M239.55 430.13L240.85 431.43L239.55 432.73L238.25 431.43Z" fill="#58b97f"/>
<path d="M241.45 429.67L242.75 430.97L241.45 432.27L240.15 430.97Z" fill="#58b97f"/>
<path d="M243.35 429.23L244.65 430.53L243.35 431.83L242.05 430.53Z" fill="#58b97f"/>
<path d="M240.50 426.37L241.80 427.67L240.50 428.97L239.20 427.67Z" fill="#58b97f"/>
<path d="M240.50 421.12L241.80 422.42L240.50 423.72L239.20 422.42Z" fill="#58b97f"/>
<path d="M240.50 418.04L241.80 419.34L240.50 420.64L239.20 419.34Z" fill="#58b97f"/>
<path d="M242.40 416.59L243.70 417.89L242.40 419.19L241.10 417.89Z" fill="#58b97f"/>
<line x1="233.0" y1="459.94" x2="248.0" y2="459.94" stroke="#1a1a1a" stroke-width="1.5"/>
<path d="M183.2 393.35V500.3H255" fill="none" stroke="#333" stroke-width="1.5"/>
<line x1="178.6" y1="500.30" x2="183.2" y2="500.30" stroke="#333" stroke-width="1.5"/>
<text x="174.89999999999998" y="503.30" font-size="7.8" text-anchor="end" fill="#2a2a2a" stroke="#2a2a2a" stroke-width="0.1">0.00</text>
<line x1="178.6" y1="479.06" x2="183.2" y2="479.06" stroke="#333" stroke-width="1.5"/>
<text x="174.89999999999998" y="482.06" font-size="7.8" text-anchor="end" fill="#2a2a2a" stroke="#2a2a2a" stroke-width="0.1">0.10</text>
<line x1="178.6" y1="457.82" x2="183.2" y2="457.82" stroke="#333" stroke-width="1.5"/>
<text x="174.89999999999998" y="460.82" font-size="7.8" text-anchor="end" fill="#2a2a2a" stroke="#2a2a2a" stroke-width="0.1">0.20</text>
<line x1="178.6" y1="436.58" x2="183.2" y2="436.58" stroke="#333" stroke-width="1.5"/>
<text x="174.89999999999998" y="439.58" font-size="7.8" text-anchor="end" fill="#2a2a2a" stroke="#2a2a2a" stroke-width="0.1">0.30</text>
<line x1="178.6" y1="415.34" x2="183.2" y2="415.34" stroke="#333" stroke-width="1.5"/>
<text x="174.89999999999998" y="418.34" font-size="7.8" text-anchor="end" fill="#2a2a2a" stroke="#2a2a2a" stroke-width="0.1">0.40</text>
<line x1="178.6" y1="394.10" x2="183.2" y2="394.10" stroke="#333" stroke-width="1.5"/>
<text x="174.89999999999998" y="397.10" font-size="7.8" text-anchor="end" fill="#2a2a2a" stroke="#2a2a2a" stroke-width="0.1">0.50</text>
<line x1="197.8" y1="500.3" x2="197.8" y2="505.3" stroke="#333" stroke-width="1.3"/>
<text x="192.7" y="514.5" font-size="6.3" text-anchor="middle" fill="#222" stroke="#222" stroke-width="0.12">PIM</text>
<line x1="219" y1="500.3" x2="219" y2="505.3" stroke="#333" stroke-width="1.3"/>
<text x="215.8" y="514.5" font-size="6.3" text-anchor="middle" fill="#222" stroke="#222" stroke-width="0.12">CER</text>
<line x1="240.5" y1="500.3" x2="240.5" y2="505.3" stroke="#333" stroke-width="1.3"/>
<text x="240.5" y="514.5" font-size="6.3" text-anchor="middle" fill="#222" stroke="#222" stroke-width="0.12">BIG</text>
<text transform="translate(155,448.9) rotate(-90)" font-size="7.6" text-anchor="middle" fill="#777">Relative abundance (%)</text>
<circle cx="258.00" cy="402.30" r="2.60" fill="#f2696e"/>
<text x="267.7" y="407.3" font-size="9" fill="#222" stroke="#222" stroke-width="0.15">PIM</text>
<path d="M258.00 415.56L260.53 420.18L255.47 420.18Z" fill="#58bcc8"/>
<text x="266.1" y="421.2" font-size="9" fill="#222" stroke="#222" stroke-width="0.15">CER</text>
<path d="M258.00 431.13L260.47 433.60L258.00 436.07L255.53 433.60Z" fill="#58b97f"/>
<text x="266.7" y="436.6" font-size="9" fill="#222" stroke="#222" stroke-width="0.15">BIG</text>
<text x="202.0" y="396.5" font-size="6.9" text-anchor="middle" fill="#8a8a8a" font-family="DejaVu Sans,sans-serif">★</text><text x="212.0" y="396.5" font-size="6.9" text-anchor="middle" fill="#8a8a8a" font-family="DejaVu Sans,sans-serif">★</text><text x="222.0" y="396.5" font-size="6.9" text-anchor="middle" fill="#8a8a8a" font-family="DejaVu Sans,sans-serif">★</text><text x="232.0" y="396.5" font-size="6.9" text-anchor="middle" fill="#8a8a8a" font-family="DejaVu Sans,sans-serif">★</text>
<path d="M194.4 404.0V400.8Q194.4 400.0 195.2 400.0H241.6Q242.4 400.0 242.4 400.8V404.0" fill="none" stroke="#333" stroke-width="1.15"/>
<text x="218.0" y="410.0" font-size="8.4" text-anchor="middle" fill="#8c8c8c" font-family="Liberation Sans,sans-serif">*</text><text x="223.5" y="410.0" font-size="8.4" text-anchor="middle" fill="#8c8c8c" font-family="Liberation Sans,sans-serif">*</text><text x="228.8" y="410.0" font-size="8.4" text-anchor="middle" fill="#8c8c8c" font-family="Liberation Sans,sans-serif">*</text><text x="234.0" y="410.0" font-size="8.4" text-anchor="middle" fill="#8c8c8c" font-family="Liberation Sans,sans-serif">*</text>
<path d="M213.4 411.2V409.8Q213.4 409.0 214.2 409.0H238.6Q239.4 409.0 239.4 409.8V411.2" fill="none" stroke="#333" stroke-width="1.15"/>
<text x="198.6" y="416.4" font-size="8.4" text-anchor="middle" fill="#8c8c8c" font-family="Liberation Sans,sans-serif">*</text><text x="204.0" y="416.4" font-size="8.4" text-anchor="middle" fill="#8c8c8c" font-family="Liberation Sans,sans-serif">*</text><text x="209.4" y="416.4" font-size="8.4" text-anchor="middle" fill="#8c8c8c" font-family="Liberation Sans,sans-serif">*</text>
<path d="M194.4 417.0V416.2Q194.4 415.4 195.2 415.4H219.2Q220.0 415.4 220.0 416.2V417.0" fill="none" stroke="#333" stroke-width="1.15"/>
<text x="300.8" y="385.9" font-size="13.2" fill="#111">G</text>
<line x1="349.1" y1="487.21" x2="349.1" y2="406.60" stroke="#f8b8ba" stroke-width="1.4"/>
<line x1="346.5" y1="487.21" x2="351.90000000000003" y2="487.21" stroke="#f8b8ba" stroke-width="1.2"/>
<line x1="346.5" y1="406.60" x2="351.90000000000003" y2="406.60" stroke="#f8b8ba" stroke-width="1.2"/>
<circle cx="349.10" cy="465.70" r="2.60" fill="#f2696e"/>
<line x1="360.2" y1="493.84" x2="360.2" y2="480.19" stroke="#b0dee3" stroke-width="1.4"/>
<line x1="357.59999999999997" y1="493.84" x2="363.0" y2="493.84" stroke="#b0dee3" stroke-width="1.2"/>
<line x1="357.59999999999997" y1="480.19" x2="363.0" y2="480.19" stroke="#b0dee3" stroke-width="1.2"/>
<path d="M360.20 487.83L362.84 492.66L357.56 492.66Z" fill="#58bcc8"/>
<line x1="370.8" y1="491.50" x2="370.8" y2="475.30" stroke="#b2dfc4" stroke-width="1.4"/>
<line x1="368.2" y1="491.50" x2="373.6" y2="491.50" stroke="#b2dfc4" stroke-width="1.2"/>
<line x1="368.2" y1="475.30" x2="373.6" y2="475.30" stroke="#b2dfc4" stroke-width="1.2"/>
<path d="M370.80 484.09L373.40 486.69L370.80 489.29L368.20 486.69Z" fill="#58b97f"/>
<line x1="389.5" y1="454.30" x2="389.5" y2="427.30" stroke="#f8b8ba" stroke-width="1.4"/>
<line x1="386.9" y1="454.30" x2="392.3" y2="454.30" stroke="#f8b8ba" stroke-width="1.2"/>
<line x1="386.9" y1="427.30" x2="392.3" y2="427.30" stroke="#f8b8ba" stroke-width="1.2"/>
<circle cx="389.50" cy="438.50" r="2.60" fill="#f2696e"/>
<line x1="400" y1="470.50" x2="400" y2="433.50" stroke="#b0dee3" stroke-width="1.4"/>
<line x1="397.4" y1="470.50" x2="402.8" y2="470.50" stroke="#b0dee3" stroke-width="1.2"/>
<line x1="397.4" y1="433.50" x2="402.8" y2="433.50" stroke="#b0dee3" stroke-width="1.2"/>
<path d="M400.00 451.74L402.64 456.57L397.36 456.57Z" fill="#58bcc8"/>
<line x1="411" y1="470.50" x2="411" y2="446.10" stroke="#b2dfc4" stroke-width="1.4"/>
<line x1="408.4" y1="470.50" x2="413.8" y2="470.50" stroke="#b2dfc4" stroke-width="1.2"/>
<line x1="408.4" y1="446.10" x2="413.8" y2="446.10" stroke="#b2dfc4" stroke-width="1.2"/>
<path d="M411.00 455.10L413.60 457.70L411.00 460.30L408.40 457.70Z" fill="#58b97f"/>
<line x1="429.1" y1="464.00" x2="429.1" y2="410.50" stroke="#f8b8ba" stroke-width="1.4"/>
<line x1="426.5" y1="464.00" x2="431.90000000000003" y2="464.00" stroke="#f8b8ba" stroke-width="1.2"/>
<line x1="426.5" y1="410.50" x2="431.90000000000003" y2="410.50" stroke="#f8b8ba" stroke-width="1.2"/>
<circle cx="429.10" cy="451.30" r="2.60" fill="#f2696e"/>
<line x1="440.1" y1="473.70" x2="440.1" y2="438.50" stroke="#b0dee3" stroke-width="1.4"/>
<line x1="437.5" y1="473.70" x2="442.90000000000003" y2="473.70" stroke="#b0dee3" stroke-width="1.2"/>
<line x1="437.5" y1="438.50" x2="442.90000000000003" y2="438.50" stroke="#b0dee3" stroke-width="1.2"/>
<path d="M440.10 462.74L442.75 467.57L437.46 467.57Z" fill="#58bcc8"/>
<line x1="450.8" y1="474.50" x2="450.8" y2="449.90" stroke="#b2dfc4" stroke-width="1.4"/>
<line x1="448.2" y1="474.50" x2="453.6" y2="474.50" stroke="#b2dfc4" stroke-width="1.2"/>
<line x1="448.2" y1="449.90" x2="453.6" y2="449.90" stroke="#b2dfc4" stroke-width="1.2"/>
<path d="M450.80 461.00L453.40 463.60L450.80 466.20L448.20 463.60Z" fill="#58b97f"/>
<line x1="469" y1="457.20" x2="469" y2="424.40" stroke="#f8b8ba" stroke-width="1.4"/>
<line x1="466.4" y1="457.20" x2="471.8" y2="457.20" stroke="#f8b8ba" stroke-width="1.2"/>
<line x1="466.4" y1="424.40" x2="471.8" y2="424.40" stroke="#f8b8ba" stroke-width="1.2"/>
<circle cx="469.00" cy="442.20" r="2.60" fill="#f2696e"/>
<line x1="480" y1="480.71" x2="480" y2="458.60" stroke="#b0dee3" stroke-width="1.4"/>
<line x1="477.4" y1="480.71" x2="482.8" y2="480.71" stroke="#b0dee3" stroke-width="1.2"/>
<line x1="477.4" y1="458.60" x2="482.8" y2="458.60" stroke="#b0dee3" stroke-width="1.2"/>
<path d="M480.00 467.54L482.64 472.37L477.36 472.37Z" fill="#58bcc8"/>
<line x1="490.8" y1="479.67" x2="490.8" y2="458.20" stroke="#b2dfc4" stroke-width="1.4"/>
<line x1="488.2" y1="479.67" x2="493.6" y2="479.67" stroke="#b2dfc4" stroke-width="1.2"/>
<line x1="488.2" y1="458.20" x2="493.6" y2="458.20" stroke="#b2dfc4" stroke-width="1.2"/>
<path d="M490.80 469.00L493.40 471.60L490.80 474.20L488.20 471.60Z" fill="#58b97f"/>
<line x1="508.7" y1="490.59" x2="508.7" y2="379.57" stroke="#f8b8ba" stroke-width="1.4"/>
<line x1="506.09999999999997" y1="490.59" x2="511.5" y2="490.59" stroke="#f8b8ba" stroke-width="1.2"/>
<line x1="506.09999999999997" y1="379.57" x2="511.5" y2="379.57" stroke="#f8b8ba" stroke-width="1.2"/>
<circle cx="508.70" cy="468.36" r="2.60" fill="#f2696e"/>
<line x1="520" y1="490.07" x2="520" y2="474.86" stroke="#b0dee3" stroke-width="1.4"/>
<line x1="517.4" y1="490.07" x2="522.8" y2="490.07" stroke="#b0dee3" stroke-width="1.2"/>
<line x1="517.4" y1="474.86" x2="522.8" y2="474.86" stroke="#b0dee3" stroke-width="1.2"/>
<path d="M520.00 480.68L522.64 485.51L517.36 485.51Z" fill="#58bcc8"/>
<line x1="530.4" y1="492.28" x2="530.4" y2="472.13" stroke="#b2dfc4" stroke-width="1.4"/>
<line x1="527.8" y1="492.28" x2="533.1999999999999" y2="492.28" stroke="#b2dfc4" stroke-width="1.2"/>
<line x1="527.8" y1="472.13" x2="533.1999999999999" y2="472.13" stroke="#b2dfc4" stroke-width="1.2"/>
<path d="M530.40 482.40L533.00 485.00L530.40 487.60L527.80 485.00Z" fill="#58b97f"/>
<path d="M341.9 369.85V500.6H544" fill="none" stroke="#333" stroke-width="1.5"/>
<line x1="336.7" y1="500.60" x2="341.9" y2="500.60" stroke="#333" stroke-width="1.5"/>
<text x="335.5" y="503.10" font-size="7.4" text-anchor="end" fill="#666">0.00</text>
<line x1="336.7" y1="474.60" x2="341.9" y2="474.60" stroke="#333" stroke-width="1.5"/>
<text x="335.5" y="477.10" font-size="7.4" text-anchor="end" fill="#666">0.02</text>
<line x1="336.7" y1="448.60" x2="341.9" y2="448.60" stroke="#333" stroke-width="1.5"/>
<text x="335.5" y="451.10" font-size="7.4" text-anchor="end" fill="#666">0.04</text>
<line x1="336.7" y1="422.60" x2="341.9" y2="422.60" stroke="#333" stroke-width="1.5"/>
<text x="335.5" y="425.10" font-size="7.4" text-anchor="end" fill="#666">0.06</text>
<line x1="336.7" y1="396.60" x2="341.9" y2="396.60" stroke="#333" stroke-width="1.5"/>
<text x="335.5" y="399.10" font-size="7.4" text-anchor="end" fill="#666">0.08</text>
<line x1="336.7" y1="370.60" x2="341.9" y2="370.60" stroke="#333" stroke-width="1.5"/>
<text x="335.5" y="373.10" font-size="7.4" text-anchor="end" fill="#666">0.10</text>
<line x1="360" y1="500.6" x2="360" y2="504.40000000000003" stroke="#333" stroke-width="1.3"/>
<text transform="translate(372.6,515.6) rotate(-30)" font-size="8" font-style="italic" text-anchor="end" fill="#222" stroke="#222" stroke-width="0.15">Bradyrhizobium</text>
<line x1="400" y1="500.6" x2="400" y2="504.40000000000003" stroke="#333" stroke-width="1.3"/>
<text transform="translate(414.8,515.6) rotate(-30)" font-size="8" font-style="italic" text-anchor="end" fill="#222" stroke="#222" stroke-width="0.15">Ictalurivirus</text>
<line x1="440" y1="500.6" x2="440" y2="504.40000000000003" stroke="#333" stroke-width="1.3"/>
<text transform="translate(457.0,515.6) rotate(-30)" font-size="8" font-style="italic" text-anchor="end" fill="#222" stroke="#222" stroke-width="0.15">Mycobacterium</text>
<line x1="480" y1="500.6" x2="480" y2="504.40000000000003" stroke="#333" stroke-width="1.3"/>
<text transform="translate(499.2,515.6) rotate(-30)" font-size="8" font-style="italic" text-anchor="end" fill="#222" stroke="#222" stroke-width="0.15">Capnocytophaga</text>
<line x1="520" y1="500.6" x2="520" y2="504.40000000000003" stroke="#333" stroke-width="1.3"/>
<text transform="translate(541.4,515.6) rotate(-30)" font-size="8" font-style="italic" text-anchor="end" fill="#222" stroke="#222" stroke-width="0.15">CandidatusPortiera</text>
<text transform="translate(316,441.3) rotate(-90)" font-size="7.6" text-anchor="middle" fill="#777">Relative abundance (%)</text>
<circle cx="518.70" cy="383.00" r="2.60" fill="#f2696e"/>
<text x="529" y="388.0" font-size="9" fill="#222" stroke="#222" stroke-width="0.15">PIM</text>
<path d="M518.70 396.66L521.23 401.28L516.17 401.28Z" fill="#58bcc8"/>
<text x="527.4" y="402.1" font-size="9" fill="#222" stroke="#222" stroke-width="0.15">CER</text>
<path d="M518.70 411.53L521.17 414.00L518.70 416.47L516.23 414.00Z" fill="#58b97f"/>
<text x="527.9" y="417.3" font-size="9" fill="#222" stroke="#222" stroke-width="0.15">BIG</text>
<path d="M348.4 458.5V457.5Q348.4 456.7 349.2 456.7H371.5Q372.3 456.7 372.3 457.5V458.5" fill="none" stroke="#333" stroke-width="1.15"/>
<text x="352.5" y="457.3" font-size="7.0" text-anchor="middle" fill="#777" font-family="Liberation Sans,sans-serif">*</text><text x="357.6" y="457.3" font-size="7.0" text-anchor="middle" fill="#777" font-family="Liberation Sans,sans-serif">*</text><text x="362.7" y="457.3" font-size="7.0" text-anchor="middle" fill="#777" font-family="Liberation Sans,sans-serif">*</text><text x="367.7" y="457.3" font-size="7.0" text-anchor="middle" fill="#777" font-family="Liberation Sans,sans-serif">*</text>
<path d="M348.4 463.3V462.3Q348.4 461.5 349.2 461.5H361.0Q361.8 461.5 361.8 462.3V463.3" fill="none" stroke="#333" stroke-width="1.15"/>
<text x="351.4" y="462.2" font-size="5.0" text-anchor="middle" fill="#999" font-family="Liberation Sans,sans-serif">*</text><text x="354.2" y="462.2" font-size="5.0" text-anchor="middle" fill="#999" font-family="Liberation Sans,sans-serif">*</text><text x="357.0" y="462.2" font-size="5.0" text-anchor="middle" fill="#999" font-family="Liberation Sans,sans-serif">*</text><text x="359.8" y="462.2" font-size="5.0" text-anchor="middle" fill="#999" font-family="Liberation Sans,sans-serif">*</text>
<path d="M360.0 471.3V470.3Q360.0 469.5 360.8 469.5H373.7Q374.5 469.5 374.5 470.3V471.3" fill="none" stroke="#333" stroke-width="1.15"/>
<text x="363.0" y="470.2" font-size="5.0" text-anchor="middle" fill="#999" font-family="Liberation Sans,sans-serif">*</text><text x="365.8" y="470.2" font-size="5.0" text-anchor="middle" fill="#999" font-family="Liberation Sans,sans-serif">*</text><text x="368.6" y="470.2" font-size="5.0" text-anchor="middle" fill="#999" font-family="Liberation Sans,sans-serif">*</text><text x="371.4" y="470.2" font-size="5.0" text-anchor="middle" fill="#999" font-family="Liberation Sans,sans-serif">*</text>
<path d="M388.3 418.8V417.8Q388.3 417.0 389.1 417.0H411.6Q412.4 417.0 412.4 417.8V418.8" fill="none" stroke="#333" stroke-width="1.15"/>
<text x="392.4" y="417.6" font-size="7.0" text-anchor="middle" fill="#777" font-family="Liberation Sans,sans-serif">*</text><text x="397.5" y="417.6" font-size="7.0" text-anchor="middle" fill="#777" font-family="Liberation Sans,sans-serif">*</text><text x="402.6" y="417.6" font-size="7.0" text-anchor="middle" fill="#777" font-family="Liberation Sans,sans-serif">*</text><text x="407.6" y="417.6" font-size="7.0" text-anchor="middle" fill="#777" font-family="Liberation Sans,sans-serif">*</text>
<path d="M386.8 423.6V422.6Q386.8 421.8 387.6 421.8H401.0Q401.8 421.8 401.8 422.6V423.6" fill="none" stroke="#333" stroke-width="1.15"/>
<text x="389.8" y="422.5" font-size="5.0" text-anchor="middle" fill="#999" font-family="Liberation Sans,sans-serif">*</text><text x="392.6" y="422.5" font-size="5.0" text-anchor="middle" fill="#999" font-family="Liberation Sans,sans-serif">*</text><text x="395.4" y="422.5" font-size="5.0" text-anchor="middle" fill="#999" font-family="Liberation Sans,sans-serif">*</text><text x="398.2" y="422.5" font-size="5.0" text-anchor="middle" fill="#999" font-family="Liberation Sans,sans-serif">*</text>
<path d="M400.0 431.3V430.3Q400.0 429.5 400.8 429.5H413.8Q414.6 429.5 414.6 430.3V431.3" fill="none" stroke="#333" stroke-width="1.15"/>
<text x="403.0" y="430.2" font-size="5.0" text-anchor="middle" fill="#999" font-family="Liberation Sans,sans-serif">*</text><text x="405.8" y="430.2" font-size="5.0" text-anchor="middle" fill="#999" font-family="Liberation Sans,sans-serif">*</text><text x="408.6" y="430.2" font-size="5.0" text-anchor="middle" fill="#999" font-family="Liberation Sans,sans-serif">*</text><text x="411.4" y="430.2" font-size="5.0" text-anchor="middle" fill="#999" font-family="Liberation Sans,sans-serif">*</text>
<path d="M426.8 424.8V423.8Q426.8 423.0 427.6 423.0H450.8Q451.6 423.0 451.6 423.8V424.8" fill="none" stroke="#333" stroke-width="1.15"/>
<text x="430.9" y="423.6" font-size="7.0" text-anchor="middle" fill="#777" font-family="Liberation Sans,sans-serif">*</text><text x="436.0" y="423.6" font-size="7.0" text-anchor="middle" fill="#777" font-family="Liberation Sans,sans-serif">*</text><text x="441.1" y="423.6" font-size="7.0" text-anchor="middle" fill="#777" font-family="Liberation Sans,sans-serif">*</text><text x="446.1" y="423.6" font-size="7.0" text-anchor="middle" fill="#777" font-family="Liberation Sans,sans-serif">*</text>
<path d="M425.4 437.1V436.1Q425.4 435.3 426.2 435.3H439.6Q440.4 435.3 440.4 436.1V437.1" fill="none" stroke="#333" stroke-width="1.15"/>
<text x="428.4" y="436.0" font-size="5.0" text-anchor="middle" fill="#999" font-family="Liberation Sans,sans-serif">*</text><text x="431.2" y="436.0" font-size="5.0" text-anchor="middle" fill="#999" font-family="Liberation Sans,sans-serif">*</text><text x="434.0" y="436.0" font-size="5.0" text-anchor="middle" fill="#999" font-family="Liberation Sans,sans-serif">*</text><text x="436.8" y="436.0" font-size="5.0" text-anchor="middle" fill="#999" font-family="Liberation Sans,sans-serif">*</text>
<path d="M470.2 420.0V419.0Q470.2 418.2 471.0 418.2H494.1Q494.9 418.2 494.9 419.0V420.0" fill="none" stroke="#333" stroke-width="1.15"/>
<text x="474.3" y="418.8" font-size="7.0" text-anchor="middle" fill="#777" font-family="Liberation Sans,sans-serif">*</text><text x="479.4" y="418.8" font-size="7.0" text-anchor="middle" fill="#777" font-family="Liberation Sans,sans-serif">*</text><text x="484.5" y="418.8" font-size="7.0" text-anchor="middle" fill="#777" font-family="Liberation Sans,sans-serif">*</text><text x="489.5" y="418.8" font-size="7.0" text-anchor="middle" fill="#777" font-family="Liberation Sans,sans-serif">*</text>
<path d="M469.0 437.1V436.1Q469.0 435.3 469.8 435.3H483.2Q484.0 435.3 484.0 436.1V437.1" fill="none" stroke="#333" stroke-width="1.15"/>
<text x="472.0" y="436.0" font-size="5.0" text-anchor="middle" fill="#999" font-family="Liberation Sans,sans-serif">*</text><text x="474.8" y="436.0" font-size="5.0" text-anchor="middle" fill="#999" font-family="Liberation Sans,sans-serif">*</text><text x="477.6" y="436.0" font-size="5.0" text-anchor="middle" fill="#999" font-family="Liberation Sans,sans-serif">*</text><text x="480.4" y="436.0" font-size="5.0" text-anchor="middle" fill="#999" font-family="Liberation Sans,sans-serif">*</text>
<path d="M508.7 452.1V451.1Q508.7 450.3 509.5 450.3H532.6Q533.4 450.3 533.4 451.1V452.1" fill="none" stroke="#333" stroke-width="1.15"/>
<text x="512.8" y="450.9" font-size="7.0" text-anchor="middle" fill="#777" font-family="Liberation Sans,sans-serif">*</text><text x="517.9" y="450.9" font-size="7.0" text-anchor="middle" fill="#777" font-family="Liberation Sans,sans-serif">*</text><text x="523.0" y="450.9" font-size="7.0" text-anchor="middle" fill="#777" font-family="Liberation Sans,sans-serif">*</text><text x="528.0" y="450.9" font-size="7.0" text-anchor="middle" fill="#777" font-family="Liberation Sans,sans-serif">*</text>
<path d="M508.7 463.1V462.1Q508.7 461.3 509.5 461.3H521.9Q522.7 461.3 522.7 462.1V463.1" fill="none" stroke="#333" stroke-width="1.15"/>
<text x="511.7" y="462.0" font-size="5.0" text-anchor="middle" fill="#999" font-family="Liberation Sans,sans-serif">*</text><text x="514.5" y="462.0" font-size="5.0" text-anchor="middle" fill="#999" font-family="Liberation Sans,sans-serif">*</text><text x="517.3" y="462.0" font-size="5.0" text-anchor="middle" fill="#999" font-family="Liberation Sans,sans-serif">*</text><text x="520.1" y="462.0" font-size="5.0" text-anchor="middle" fill="#999" font-family="Liberation Sans,sans-serif">*</text>
</svg>
</body></html>
